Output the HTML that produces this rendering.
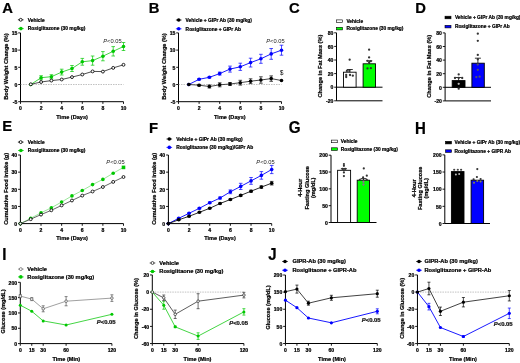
<!DOCTYPE html>
<html><head><meta charset="utf-8"><style>
html,body{margin:0;padding:0;background:#fff;}
svg{display:block;will-change:transform;}
text[font-weight="bold"]{stroke:#000;stroke-width:0.22px;}
text{font-family:"Liberation Sans",sans-serif;}
</style></head><body>
<svg width="520" height="363" viewBox="0 0 520 363">
<rect width="520" height="363" fill="#fff"/>
<text x="0" y="0" font-size="14.8" font-weight="bold" transform="translate(2.15,12.50) scale(1,1.05)">A</text>
<line x1="17.90" y1="19.80" x2="23.50" y2="19.80" stroke="#000" stroke-width="0.8" />
<circle cx="20.70" cy="19.80" r="1.45" fill="#fff" stroke="#000" stroke-width="0.85"/>
<text font-size="4.9" font-weight="bold" text-anchor="start" fill="#000"  transform="translate(27.80,21.55) scale(1,1.04)">Vehicle</text>
<line x1="18.10" y1="28.60" x2="23.70" y2="28.60" stroke="#00c800" stroke-width="0.8" />
<circle cx="20.90" cy="28.60" r="1.7999999999999998" fill="#00c800" stroke="none" stroke-width="0.8"/>
<text font-size="4.9" font-weight="bold" text-anchor="start" fill="#000"  transform="translate(27.80,30.35) scale(1,1.04)">Rosiglitazone (30 mg/kg)</text>
<line x1="20.50" y1="32.90" x2="20.50" y2="101.70" stroke="#000" stroke-width="1.0" />
<line x1="18.20" y1="32.90" x2="20.50" y2="32.90" stroke="#000" stroke-width="0.9" />
<text font-size="5.1" font-weight="bold" text-anchor="end" fill="#000"  transform="translate(17.30,35.10) scale(1,1.04)">15</text>
<line x1="18.20" y1="50.10" x2="20.50" y2="50.10" stroke="#000" stroke-width="0.9" />
<text font-size="5.1" font-weight="bold" text-anchor="end" fill="#000"  transform="translate(17.30,52.30) scale(1,1.04)">10</text>
<line x1="18.20" y1="67.30" x2="20.50" y2="67.30" stroke="#000" stroke-width="0.9" />
<text font-size="5.1" font-weight="bold" text-anchor="end" fill="#000"  transform="translate(17.30,69.50) scale(1,1.04)">5</text>
<line x1="18.20" y1="84.50" x2="20.50" y2="84.50" stroke="#000" stroke-width="0.9" />
<text font-size="5.1" font-weight="bold" text-anchor="end" fill="#000"  transform="translate(17.30,86.70) scale(1,1.04)">0</text>
<line x1="18.20" y1="101.70" x2="20.50" y2="101.70" stroke="#000" stroke-width="0.9" />
<text font-size="5.1" font-weight="bold" text-anchor="end" fill="#000"  transform="translate(17.30,103.90) scale(1,1.04)">-5</text>
<text x="0" y="0" font-size="5.6" font-weight="bold" text-anchor="middle" transform="translate(8.00,66.50) rotate(-90) scale(1,1.04)">Body Weight Change (%)</text>
<line x1="20.50" y1="101.70" x2="123.50" y2="101.70" stroke="#000" stroke-width="1.0" />
<line x1="20.50" y1="101.70" x2="20.50" y2="103.90" stroke="#000" stroke-width="0.9" />
<text font-size="5.1" font-weight="bold" text-anchor="middle" fill="#000"  transform="translate(20.50,110.30) scale(1,1.04)">0</text>
<line x1="41.10" y1="101.70" x2="41.10" y2="103.90" stroke="#000" stroke-width="0.9" />
<text font-size="5.1" font-weight="bold" text-anchor="middle" fill="#000"  transform="translate(41.10,110.30) scale(1,1.04)">2</text>
<line x1="61.70" y1="101.70" x2="61.70" y2="103.90" stroke="#000" stroke-width="0.9" />
<text font-size="5.1" font-weight="bold" text-anchor="middle" fill="#000"  transform="translate(61.70,110.30) scale(1,1.04)">4</text>
<line x1="82.30" y1="101.70" x2="82.30" y2="103.90" stroke="#000" stroke-width="0.9" />
<text font-size="5.1" font-weight="bold" text-anchor="middle" fill="#000"  transform="translate(82.30,110.30) scale(1,1.04)">6</text>
<line x1="102.90" y1="101.70" x2="102.90" y2="103.90" stroke="#000" stroke-width="0.9" />
<text font-size="5.1" font-weight="bold" text-anchor="middle" fill="#000"  transform="translate(102.90,110.30) scale(1,1.04)">8</text>
<line x1="123.50" y1="101.70" x2="123.50" y2="103.90" stroke="#000" stroke-width="0.9" />
<text font-size="5.1" font-weight="bold" text-anchor="middle" fill="#000"  transform="translate(123.50,110.30) scale(1,1.04)">10</text>
<text font-size="5.6" font-weight="bold" text-anchor="middle" fill="#000"  transform="translate(72.10,118.50) scale(1,1.04)">Time (Days)</text>
<line x1="20.50" y1="84.50" x2="123.50" y2="84.50" stroke="#999" stroke-width="0.6" stroke-dasharray="1.5,1"/>
<polyline points="30.80,84.50 41.10,77.70 51.40,76.70 61.70,72.10 72.00,68.50 82.30,61.80 92.60,60.60 102.90,56.20 113.20,51.30 123.50,46.50" fill="none" stroke="#2fd02f" stroke-width="0.9" stroke-linejoin="round"/>
<line x1="41.10" y1="75.70" x2="41.10" y2="79.70" stroke="#00c800" stroke-width="0.7" />
<line x1="39.30" y1="75.70" x2="42.90" y2="75.70" stroke="#00c800" stroke-width="0.7" />
<line x1="39.30" y1="79.70" x2="42.90" y2="79.70" stroke="#00c800" stroke-width="0.7" />
<line x1="51.40" y1="74.70" x2="51.40" y2="78.70" stroke="#00c800" stroke-width="0.7" />
<line x1="49.60" y1="74.70" x2="53.20" y2="74.70" stroke="#00c800" stroke-width="0.7" />
<line x1="49.60" y1="78.70" x2="53.20" y2="78.70" stroke="#00c800" stroke-width="0.7" />
<line x1="61.70" y1="69.20" x2="61.70" y2="75.00" stroke="#00c800" stroke-width="0.7" />
<line x1="59.90" y1="69.20" x2="63.50" y2="69.20" stroke="#00c800" stroke-width="0.7" />
<line x1="59.90" y1="75.00" x2="63.50" y2="75.00" stroke="#00c800" stroke-width="0.7" />
<line x1="72.00" y1="65.50" x2="72.00" y2="71.50" stroke="#00c800" stroke-width="0.7" />
<line x1="70.20" y1="65.50" x2="73.80" y2="65.50" stroke="#00c800" stroke-width="0.7" />
<line x1="70.20" y1="71.50" x2="73.80" y2="71.50" stroke="#00c800" stroke-width="0.7" />
<line x1="82.30" y1="58.40" x2="82.30" y2="65.20" stroke="#00c800" stroke-width="0.7" />
<line x1="80.50" y1="58.40" x2="84.10" y2="58.40" stroke="#00c800" stroke-width="0.7" />
<line x1="80.50" y1="65.20" x2="84.10" y2="65.20" stroke="#00c800" stroke-width="0.7" />
<line x1="92.60" y1="56.00" x2="92.60" y2="65.20" stroke="#00c800" stroke-width="0.7" />
<line x1="90.80" y1="56.00" x2="94.40" y2="56.00" stroke="#00c800" stroke-width="0.7" />
<line x1="90.80" y1="65.20" x2="94.40" y2="65.20" stroke="#00c800" stroke-width="0.7" />
<line x1="102.90" y1="51.60" x2="102.90" y2="60.80" stroke="#00c800" stroke-width="0.7" />
<line x1="101.10" y1="51.60" x2="104.70" y2="51.60" stroke="#00c800" stroke-width="0.7" />
<line x1="101.10" y1="60.80" x2="104.70" y2="60.80" stroke="#00c800" stroke-width="0.7" />
<line x1="113.20" y1="46.60" x2="113.20" y2="56.00" stroke="#00c800" stroke-width="0.7" />
<line x1="111.40" y1="46.60" x2="115.00" y2="46.60" stroke="#00c800" stroke-width="0.7" />
<line x1="111.40" y1="56.00" x2="115.00" y2="56.00" stroke="#00c800" stroke-width="0.7" />
<line x1="123.50" y1="42.50" x2="123.50" y2="50.50" stroke="#00c800" stroke-width="0.7" />
<line x1="121.70" y1="42.50" x2="125.30" y2="42.50" stroke="#00c800" stroke-width="0.7" />
<line x1="121.70" y1="50.50" x2="125.30" y2="50.50" stroke="#00c800" stroke-width="0.7" />
<circle cx="30.80" cy="84.50" r="1.8" fill="#00c800" stroke="none" stroke-width="0.8"/>
<circle cx="41.10" cy="77.70" r="1.8" fill="#00c800" stroke="none" stroke-width="0.8"/>
<circle cx="51.40" cy="76.70" r="1.8" fill="#00c800" stroke="none" stroke-width="0.8"/>
<circle cx="61.70" cy="72.10" r="1.8" fill="#00c800" stroke="none" stroke-width="0.8"/>
<circle cx="72.00" cy="68.50" r="1.8" fill="#00c800" stroke="none" stroke-width="0.8"/>
<circle cx="82.30" cy="61.80" r="1.8" fill="#00c800" stroke="none" stroke-width="0.8"/>
<circle cx="92.60" cy="60.60" r="1.8" fill="#00c800" stroke="none" stroke-width="0.8"/>
<circle cx="102.90" cy="56.20" r="1.8" fill="#00c800" stroke="none" stroke-width="0.8"/>
<circle cx="113.20" cy="51.30" r="1.8" fill="#00c800" stroke="none" stroke-width="0.8"/>
<circle cx="123.50" cy="46.50" r="1.8" fill="#00c800" stroke="none" stroke-width="0.8"/>
<polyline points="30.80,84.30 41.10,82.00 51.40,80.60 61.70,79.50 72.00,77.10 82.30,74.50 92.60,71.40 102.90,71.60 113.20,67.90 123.50,64.80" fill="none" stroke="#222" stroke-width="0.8" stroke-linejoin="round"/>
<circle cx="30.80" cy="84.30" r="1.45" fill="#fff" stroke="#000" stroke-width="0.85"/>
<circle cx="41.10" cy="82.00" r="1.45" fill="#fff" stroke="#000" stroke-width="0.85"/>
<circle cx="51.40" cy="80.60" r="1.45" fill="#fff" stroke="#000" stroke-width="0.85"/>
<circle cx="61.70" cy="79.50" r="1.45" fill="#fff" stroke="#000" stroke-width="0.85"/>
<circle cx="72.00" cy="77.10" r="1.45" fill="#fff" stroke="#000" stroke-width="0.85"/>
<circle cx="82.30" cy="74.50" r="1.45" fill="#fff" stroke="#000" stroke-width="0.85"/>
<circle cx="92.60" cy="71.40" r="1.45" fill="#fff" stroke="#000" stroke-width="0.85"/>
<circle cx="102.90" cy="71.60" r="1.45" fill="#fff" stroke="#000" stroke-width="0.85"/>
<circle cx="113.20" cy="67.90" r="1.45" fill="#fff" stroke="#000" stroke-width="0.85"/>
<circle cx="123.50" cy="64.80" r="1.45" fill="#fff" stroke="#000" stroke-width="0.85"/>
<text font-size="5.75" font-weight="normal" fill="#222" transform="translate(103.20,43.20) scale(1,1.04)"><tspan font-style="italic">P</tspan>&lt;0.05</text>
<text x="0" y="0" font-size="14.8" font-weight="bold" transform="translate(148.80,12.55) scale(1,1.05)">B</text>
<line x1="175.90" y1="20.00" x2="181.50" y2="20.00" stroke="#000" stroke-width="0.8" />
<circle cx="178.70" cy="20.00" r="1.7999999999999998" fill="#000" stroke="none" stroke-width="0.8"/>
<text font-size="4.9" font-weight="bold" text-anchor="start" fill="#000"  transform="translate(185.60,21.75) scale(1,1.04)">Vehicle + GIPr Ab (30 mg/kg)</text>
<line x1="175.90" y1="28.80" x2="181.50" y2="28.80" stroke="#0000ff" stroke-width="0.8" />
<circle cx="178.70" cy="28.80" r="1.7999999999999998" fill="#0000ff" stroke="none" stroke-width="0.8"/>
<text font-size="4.9" font-weight="bold" text-anchor="start" fill="#000"  transform="translate(185.60,30.55) scale(1,1.04)">Rosiglitazone + GIPr Ab</text>
<line x1="178.50" y1="32.90" x2="178.50" y2="101.70" stroke="#000" stroke-width="1.0" />
<line x1="176.20" y1="32.90" x2="178.50" y2="32.90" stroke="#000" stroke-width="0.9" />
<text font-size="5.1" font-weight="bold" text-anchor="end" fill="#000"  transform="translate(175.30,35.10) scale(1,1.04)">15</text>
<line x1="176.20" y1="50.10" x2="178.50" y2="50.10" stroke="#000" stroke-width="0.9" />
<text font-size="5.1" font-weight="bold" text-anchor="end" fill="#000"  transform="translate(175.30,52.30) scale(1,1.04)">10</text>
<line x1="176.20" y1="67.30" x2="178.50" y2="67.30" stroke="#000" stroke-width="0.9" />
<text font-size="5.1" font-weight="bold" text-anchor="end" fill="#000"  transform="translate(175.30,69.50) scale(1,1.04)">5</text>
<line x1="176.20" y1="84.50" x2="178.50" y2="84.50" stroke="#000" stroke-width="0.9" />
<text font-size="5.1" font-weight="bold" text-anchor="end" fill="#000"  transform="translate(175.30,86.70) scale(1,1.04)">0</text>
<line x1="176.20" y1="101.70" x2="178.50" y2="101.70" stroke="#000" stroke-width="0.9" />
<text font-size="5.1" font-weight="bold" text-anchor="end" fill="#000"  transform="translate(175.30,103.90) scale(1,1.04)">-5</text>
<text x="0" y="0" font-size="5.6" font-weight="bold" text-anchor="middle" transform="translate(165.90,66.50) rotate(-90) scale(1,1.04)">Body Weight Change (%)</text>
<line x1="178.50" y1="101.70" x2="281.50" y2="101.70" stroke="#000" stroke-width="1.0" />
<line x1="178.50" y1="101.70" x2="178.50" y2="103.90" stroke="#000" stroke-width="0.9" />
<text font-size="5.1" font-weight="bold" text-anchor="middle" fill="#000"  transform="translate(178.50,110.30) scale(1,1.04)">0</text>
<line x1="199.10" y1="101.70" x2="199.10" y2="103.90" stroke="#000" stroke-width="0.9" />
<text font-size="5.1" font-weight="bold" text-anchor="middle" fill="#000"  transform="translate(199.10,110.30) scale(1,1.04)">2</text>
<line x1="219.70" y1="101.70" x2="219.70" y2="103.90" stroke="#000" stroke-width="0.9" />
<text font-size="5.1" font-weight="bold" text-anchor="middle" fill="#000"  transform="translate(219.70,110.30) scale(1,1.04)">4</text>
<line x1="240.30" y1="101.70" x2="240.30" y2="103.90" stroke="#000" stroke-width="0.9" />
<text font-size="5.1" font-weight="bold" text-anchor="middle" fill="#000"  transform="translate(240.30,110.30) scale(1,1.04)">6</text>
<line x1="260.90" y1="101.70" x2="260.90" y2="103.90" stroke="#000" stroke-width="0.9" />
<text font-size="5.1" font-weight="bold" text-anchor="middle" fill="#000"  transform="translate(260.90,110.30) scale(1,1.04)">8</text>
<line x1="281.50" y1="101.70" x2="281.50" y2="103.90" stroke="#000" stroke-width="0.9" />
<text font-size="5.1" font-weight="bold" text-anchor="middle" fill="#000"  transform="translate(281.50,110.30) scale(1,1.04)">10</text>
<text font-size="5.6" font-weight="bold" text-anchor="middle" fill="#000"  transform="translate(229.80,118.50) scale(1,1.04)">Time (Days)</text>
<line x1="178.50" y1="84.50" x2="281.50" y2="84.50" stroke="#999" stroke-width="0.6" stroke-dasharray="1.5,1"/>
<polyline points="188.80,84.50 199.10,79.30 209.40,77.30 219.70,73.60 230.00,69.10 240.30,66.80 250.60,62.60 260.90,58.80 271.20,53.90 281.50,50.20" fill="none" stroke="#0000ff" stroke-width="0.9" stroke-linejoin="round"/>
<line x1="199.10" y1="78.50" x2="199.10" y2="80.10" stroke="#0000ff" stroke-width="0.7" />
<line x1="197.30" y1="78.50" x2="200.90" y2="78.50" stroke="#0000ff" stroke-width="0.7" />
<line x1="197.30" y1="80.10" x2="200.90" y2="80.10" stroke="#0000ff" stroke-width="0.7" />
<line x1="209.40" y1="76.50" x2="209.40" y2="78.10" stroke="#0000ff" stroke-width="0.7" />
<line x1="207.60" y1="76.50" x2="211.20" y2="76.50" stroke="#0000ff" stroke-width="0.7" />
<line x1="207.60" y1="78.10" x2="211.20" y2="78.10" stroke="#0000ff" stroke-width="0.7" />
<line x1="219.70" y1="72.10" x2="219.70" y2="75.10" stroke="#0000ff" stroke-width="0.7" />
<line x1="217.90" y1="72.10" x2="221.50" y2="72.10" stroke="#0000ff" stroke-width="0.7" />
<line x1="217.90" y1="75.10" x2="221.50" y2="75.10" stroke="#0000ff" stroke-width="0.7" />
<line x1="230.00" y1="66.10" x2="230.00" y2="72.10" stroke="#0000ff" stroke-width="0.7" />
<line x1="228.20" y1="66.10" x2="231.80" y2="66.10" stroke="#0000ff" stroke-width="0.7" />
<line x1="228.20" y1="72.10" x2="231.80" y2="72.10" stroke="#0000ff" stroke-width="0.7" />
<line x1="240.30" y1="63.20" x2="240.30" y2="70.40" stroke="#0000ff" stroke-width="0.7" />
<line x1="238.50" y1="63.20" x2="242.10" y2="63.20" stroke="#0000ff" stroke-width="0.7" />
<line x1="238.50" y1="70.40" x2="242.10" y2="70.40" stroke="#0000ff" stroke-width="0.7" />
<line x1="250.60" y1="58.20" x2="250.60" y2="67.00" stroke="#0000ff" stroke-width="0.7" />
<line x1="248.80" y1="58.20" x2="252.40" y2="58.20" stroke="#0000ff" stroke-width="0.7" />
<line x1="248.80" y1="67.00" x2="252.40" y2="67.00" stroke="#0000ff" stroke-width="0.7" />
<line x1="260.90" y1="54.30" x2="260.90" y2="63.30" stroke="#0000ff" stroke-width="0.7" />
<line x1="259.10" y1="54.30" x2="262.70" y2="54.30" stroke="#0000ff" stroke-width="0.7" />
<line x1="259.10" y1="63.30" x2="262.70" y2="63.30" stroke="#0000ff" stroke-width="0.7" />
<line x1="271.20" y1="48.50" x2="271.20" y2="59.30" stroke="#0000ff" stroke-width="0.7" />
<line x1="269.40" y1="48.50" x2="273.00" y2="48.50" stroke="#0000ff" stroke-width="0.7" />
<line x1="269.40" y1="59.30" x2="273.00" y2="59.30" stroke="#0000ff" stroke-width="0.7" />
<line x1="281.50" y1="45.20" x2="281.50" y2="55.20" stroke="#0000ff" stroke-width="0.7" />
<line x1="279.70" y1="45.20" x2="283.30" y2="45.20" stroke="#0000ff" stroke-width="0.7" />
<line x1="279.70" y1="55.20" x2="283.30" y2="55.20" stroke="#0000ff" stroke-width="0.7" />
<circle cx="188.80" cy="84.50" r="1.8" fill="#0000ff" stroke="none" stroke-width="0.8"/>
<circle cx="199.10" cy="79.30" r="1.8" fill="#0000ff" stroke="none" stroke-width="0.8"/>
<circle cx="209.40" cy="77.30" r="1.8" fill="#0000ff" stroke="none" stroke-width="0.8"/>
<circle cx="219.70" cy="73.60" r="1.8" fill="#0000ff" stroke="none" stroke-width="0.8"/>
<circle cx="230.00" cy="69.10" r="1.8" fill="#0000ff" stroke="none" stroke-width="0.8"/>
<circle cx="240.30" cy="66.80" r="1.8" fill="#0000ff" stroke="none" stroke-width="0.8"/>
<circle cx="250.60" cy="62.60" r="1.8" fill="#0000ff" stroke="none" stroke-width="0.8"/>
<circle cx="260.90" cy="58.80" r="1.8" fill="#0000ff" stroke="none" stroke-width="0.8"/>
<circle cx="271.20" cy="53.90" r="1.8" fill="#0000ff" stroke="none" stroke-width="0.8"/>
<circle cx="281.50" cy="50.20" r="1.8" fill="#0000ff" stroke="none" stroke-width="0.8"/>
<polyline points="188.80,84.50 199.10,85.20 209.40,86.50 219.70,84.80 230.00,84.00 240.30,82.70 250.60,81.20 260.90,80.00 271.20,78.60 281.50,80.50" fill="none" stroke="#333" stroke-width="0.9" stroke-linejoin="round"/>
<line x1="199.10" y1="84.40" x2="199.10" y2="86.00" stroke="#000" stroke-width="0.7" />
<line x1="197.30" y1="84.40" x2="200.90" y2="84.40" stroke="#000" stroke-width="0.7" />
<line x1="197.30" y1="86.00" x2="200.90" y2="86.00" stroke="#000" stroke-width="0.7" />
<line x1="209.40" y1="85.00" x2="209.40" y2="88.00" stroke="#000" stroke-width="0.7" />
<line x1="207.60" y1="85.00" x2="211.20" y2="85.00" stroke="#000" stroke-width="0.7" />
<line x1="207.60" y1="88.00" x2="211.20" y2="88.00" stroke="#000" stroke-width="0.7" />
<line x1="219.70" y1="82.80" x2="219.70" y2="86.80" stroke="#000" stroke-width="0.7" />
<line x1="217.90" y1="82.80" x2="221.50" y2="82.80" stroke="#000" stroke-width="0.7" />
<line x1="217.90" y1="86.80" x2="221.50" y2="86.80" stroke="#000" stroke-width="0.7" />
<line x1="230.00" y1="82.50" x2="230.00" y2="85.50" stroke="#000" stroke-width="0.7" />
<line x1="228.20" y1="82.50" x2="231.80" y2="82.50" stroke="#000" stroke-width="0.7" />
<line x1="228.20" y1="85.50" x2="231.80" y2="85.50" stroke="#000" stroke-width="0.7" />
<line x1="240.30" y1="80.30" x2="240.30" y2="85.10" stroke="#000" stroke-width="0.7" />
<line x1="238.50" y1="80.30" x2="242.10" y2="80.30" stroke="#000" stroke-width="0.7" />
<line x1="238.50" y1="85.10" x2="242.10" y2="85.10" stroke="#000" stroke-width="0.7" />
<line x1="250.60" y1="78.80" x2="250.60" y2="83.60" stroke="#000" stroke-width="0.7" />
<line x1="248.80" y1="78.80" x2="252.40" y2="78.80" stroke="#000" stroke-width="0.7" />
<line x1="248.80" y1="83.60" x2="252.40" y2="83.60" stroke="#000" stroke-width="0.7" />
<line x1="260.90" y1="76.80" x2="260.90" y2="83.20" stroke="#000" stroke-width="0.7" />
<line x1="259.10" y1="76.80" x2="262.70" y2="76.80" stroke="#000" stroke-width="0.7" />
<line x1="259.10" y1="83.20" x2="262.70" y2="83.20" stroke="#000" stroke-width="0.7" />
<line x1="271.20" y1="75.90" x2="271.20" y2="81.30" stroke="#000" stroke-width="0.7" />
<line x1="269.40" y1="75.90" x2="273.00" y2="75.90" stroke="#000" stroke-width="0.7" />
<line x1="269.40" y1="81.30" x2="273.00" y2="81.30" stroke="#000" stroke-width="0.7" />
<circle cx="188.80" cy="84.50" r="1.8" fill="#000" stroke="none" stroke-width="0.8"/>
<circle cx="199.10" cy="85.20" r="1.8" fill="#000" stroke="none" stroke-width="0.8"/>
<circle cx="209.40" cy="86.50" r="1.8" fill="#000" stroke="none" stroke-width="0.8"/>
<circle cx="219.70" cy="84.80" r="1.8" fill="#000" stroke="none" stroke-width="0.8"/>
<circle cx="230.00" cy="84.00" r="1.8" fill="#000" stroke="none" stroke-width="0.8"/>
<circle cx="240.30" cy="82.70" r="1.8" fill="#000" stroke="none" stroke-width="0.8"/>
<circle cx="250.60" cy="81.20" r="1.8" fill="#000" stroke="none" stroke-width="0.8"/>
<circle cx="260.90" cy="80.00" r="1.8" fill="#000" stroke="none" stroke-width="0.8"/>
<circle cx="271.20" cy="78.60" r="1.8" fill="#000" stroke="none" stroke-width="0.8"/>
<circle cx="281.50" cy="80.50" r="1.8" fill="#000" stroke="none" stroke-width="0.8"/>
<text font-size="5.75" font-weight="normal" fill="#222" transform="translate(266.20,43.20) scale(1,1.04)"><tspan font-style="italic">P</tspan>&lt;0.05</text>
<text font-size="6.2" font-weight="normal" text-anchor="middle" fill="#000"  transform="translate(281.80,75.00) scale(1,1.04)">$</text>
<text x="0" y="0" font-size="14.8" font-weight="bold" transform="translate(288.90,12.70) scale(1,1.05)">C</text>
<rect x="336.50" y="19.90" width="6.00" height="2.60" fill="#fff" stroke="#000" stroke-width="0.6"/>
<text font-size="4.85" font-weight="bold" text-anchor="start" fill="#000"  transform="translate(346.40,22.85) scale(1,1.04)">Vehicle</text>
<rect x="336.50" y="27.30" width="6.00" height="2.60" fill="#00ff00" stroke="#000" stroke-width="0.6"/>
<text font-size="4.85" font-weight="bold" text-anchor="start" fill="#000"  transform="translate(346.40,30.25) scale(1,1.04)">Rosiglitazone (30 mg/kg)</text>
<line x1="336.50" y1="32.80" x2="336.50" y2="100.80" stroke="#000" stroke-width="1.0" />
<line x1="334.20" y1="32.80" x2="336.50" y2="32.80" stroke="#000" stroke-width="0.9" />
<text font-size="5.1" font-weight="bold" text-anchor="end" fill="#000"  transform="translate(333.30,35.00) scale(1,1.04)">80</text>
<line x1="334.20" y1="46.40" x2="336.50" y2="46.40" stroke="#000" stroke-width="0.9" />
<text font-size="5.1" font-weight="bold" text-anchor="end" fill="#000"  transform="translate(333.30,48.60) scale(1,1.04)">60</text>
<line x1="334.20" y1="60.00" x2="336.50" y2="60.00" stroke="#000" stroke-width="0.9" />
<text font-size="5.1" font-weight="bold" text-anchor="end" fill="#000"  transform="translate(333.30,62.20) scale(1,1.04)">40</text>
<line x1="334.20" y1="73.60" x2="336.50" y2="73.60" stroke="#000" stroke-width="0.9" />
<text font-size="5.1" font-weight="bold" text-anchor="end" fill="#000"  transform="translate(333.30,75.80) scale(1,1.04)">20</text>
<line x1="334.20" y1="87.20" x2="336.50" y2="87.20" stroke="#000" stroke-width="0.9" />
<text font-size="5.1" font-weight="bold" text-anchor="end" fill="#000"  transform="translate(333.30,89.40) scale(1,1.04)">0</text>
<line x1="334.20" y1="100.80" x2="336.50" y2="100.80" stroke="#000" stroke-width="0.9" />
<text font-size="5.1" font-weight="bold" text-anchor="end" fill="#000"  transform="translate(333.30,103.00) scale(1,1.04)">-20</text>
<text x="0" y="0" font-size="5.6" font-weight="bold" text-anchor="middle" transform="translate(322.30,66.10) rotate(-90) scale(1,1.04)">Change in Fat Mass (%)</text>
<line x1="336.50" y1="87.20" x2="382.50" y2="87.20" stroke="#000" stroke-width="1.0" />
<line x1="336.50" y1="100.80" x2="382.50" y2="100.80" stroke="#000" stroke-width="1.0" />
<rect x="343.50" y="72.20" width="12.60" height="15.00" fill="#fff" stroke="#000" stroke-width="0.9"/>
<rect x="363.10" y="63.80" width="12.40" height="23.40" fill="#00ff00" stroke="#000" stroke-width="0.9"/>
<line x1="349.80" y1="69.50" x2="349.80" y2="72.20" stroke="#000" stroke-width="0.8" />
<line x1="346.80" y1="69.50" x2="352.80" y2="69.50" stroke="#000" stroke-width="0.8" />
<line x1="369.30" y1="60.80" x2="369.30" y2="63.80" stroke="#000" stroke-width="0.8" />
<line x1="366.30" y1="60.80" x2="372.30" y2="60.80" stroke="#000" stroke-width="0.8" />
<circle cx="349.66" cy="59.70" r="1.15" fill="#333" stroke="none" stroke-width="0.8"/>
<circle cx="346.90" cy="70.90" r="1.15" fill="#333" stroke="none" stroke-width="0.8"/>
<circle cx="349.30" cy="70.90" r="1.15" fill="#333" stroke="none" stroke-width="0.8"/>
<circle cx="346.20" cy="75.00" r="1.15" fill="#333" stroke="none" stroke-width="0.8"/>
<circle cx="350.00" cy="75.00" r="1.15" fill="#333" stroke="none" stroke-width="0.8"/>
<circle cx="352.80" cy="75.70" r="1.15" fill="#333" stroke="none" stroke-width="0.8"/>
<circle cx="346.20" cy="77.00" r="1.15" fill="#333" stroke="none" stroke-width="0.8"/>
<circle cx="369.10" cy="49.70" r="1.15" fill="#333" stroke="none" stroke-width="0.8"/>
<circle cx="369.10" cy="57.40" r="1.15" fill="#333" stroke="none" stroke-width="0.8"/>
<circle cx="367.50" cy="60.80" r="1.15" fill="#333" stroke="none" stroke-width="0.8"/>
<circle cx="370.80" cy="61.20" r="1.15" fill="#333" stroke="none" stroke-width="0.8"/>
<circle cx="369.10" cy="62.30" r="1.15" fill="#333" stroke="none" stroke-width="0.8"/>
<circle cx="367.50" cy="68.40" r="1.15" fill="#333" stroke="none" stroke-width="0.8"/>
<circle cx="370.90" cy="68.20" r="1.15" fill="#333" stroke="none" stroke-width="0.8"/>
<text x="0" y="0" font-size="14.8" font-weight="bold" transform="translate(415.25,12.70) scale(1,1.05)">D</text>
<rect x="445.00" y="16.20" width="6.00" height="2.60" fill="#000" stroke="#000" stroke-width="0.6"/>
<text font-size="4.85" font-weight="bold" text-anchor="start" fill="#000"  transform="translate(454.90,19.15) scale(1,1.04)">Vehicle + GIPr Ab (30 mg/kg)</text>
<rect x="445.00" y="25.30" width="6.00" height="2.60" fill="#0000ff" stroke="#000" stroke-width="0.6"/>
<text font-size="4.85" font-weight="bold" text-anchor="start" fill="#000"  transform="translate(454.90,28.25) scale(1,1.04)">Rosiglitazone + GIPr Ab</text>
<line x1="445.10" y1="32.90" x2="445.10" y2="100.90" stroke="#000" stroke-width="1.0" />
<line x1="442.80" y1="32.90" x2="445.10" y2="32.90" stroke="#000" stroke-width="0.9" />
<text font-size="5.1" font-weight="bold" text-anchor="end" fill="#000"  transform="translate(441.90,35.10) scale(1,1.04)">80</text>
<line x1="442.80" y1="46.50" x2="445.10" y2="46.50" stroke="#000" stroke-width="0.9" />
<text font-size="5.1" font-weight="bold" text-anchor="end" fill="#000"  transform="translate(441.90,48.70) scale(1,1.04)">60</text>
<line x1="442.80" y1="60.10" x2="445.10" y2="60.10" stroke="#000" stroke-width="0.9" />
<text font-size="5.1" font-weight="bold" text-anchor="end" fill="#000"  transform="translate(441.90,62.30) scale(1,1.04)">40</text>
<line x1="442.80" y1="73.70" x2="445.10" y2="73.70" stroke="#000" stroke-width="0.9" />
<text font-size="5.1" font-weight="bold" text-anchor="end" fill="#000"  transform="translate(441.90,75.90) scale(1,1.04)">20</text>
<line x1="442.80" y1="87.30" x2="445.10" y2="87.30" stroke="#000" stroke-width="0.9" />
<text font-size="5.1" font-weight="bold" text-anchor="end" fill="#000"  transform="translate(441.90,89.50) scale(1,1.04)">0</text>
<line x1="442.80" y1="100.90" x2="445.10" y2="100.90" stroke="#000" stroke-width="0.9" />
<text font-size="5.1" font-weight="bold" text-anchor="end" fill="#000"  transform="translate(441.90,103.10) scale(1,1.04)">-20</text>
<text x="0" y="0" font-size="5.6" font-weight="bold" text-anchor="middle" transform="translate(430.80,66.30) rotate(-90) scale(1,1.04)">Change in Fat Mass (%)</text>
<line x1="445.10" y1="87.30" x2="491.00" y2="87.30" stroke="#000" stroke-width="1.0" />
<line x1="445.10" y1="100.90" x2="491.00" y2="100.90" stroke="#000" stroke-width="1.0" />
<rect x="452.20" y="80.60" width="12.80" height="6.70" fill="#000" stroke="#000" stroke-width="0.9"/>
<rect x="471.90" y="63.20" width="12.40" height="24.10" fill="#0000ff" stroke="#000" stroke-width="0.9"/>
<line x1="458.60" y1="77.50" x2="458.60" y2="80.60" stroke="#000" stroke-width="0.8" />
<line x1="455.60" y1="77.50" x2="461.60" y2="77.50" stroke="#000" stroke-width="0.8" />
<line x1="477.90" y1="58.20" x2="477.90" y2="63.20" stroke="#000" stroke-width="0.8" />
<line x1="474.90" y1="58.20" x2="480.90" y2="58.20" stroke="#000" stroke-width="0.8" />
<circle cx="458.70" cy="74.40" r="1.15" fill="#333" stroke="none" stroke-width="0.8"/>
<circle cx="455.00" cy="78.00" r="1.15" fill="#333" stroke="none" stroke-width="0.8"/>
<circle cx="458.70" cy="78.00" r="1.15" fill="#333" stroke="none" stroke-width="0.8"/>
<circle cx="462.20" cy="78.00" r="1.15" fill="#333" stroke="none" stroke-width="0.8"/>
<circle cx="458.70" cy="88.70" r="1.15" fill="#333" stroke="none" stroke-width="0.8"/>
<circle cx="458.70" cy="83.80" r="1.15" fill="#bbb" stroke="none" stroke-width="0.8"/>
<circle cx="477.80" cy="33.70" r="1.15" fill="#333" stroke="none" stroke-width="0.8"/>
<circle cx="477.80" cy="40.80" r="1.15" fill="#333" stroke="none" stroke-width="0.8"/>
<circle cx="477.80" cy="54.90" r="1.15" fill="#333" stroke="none" stroke-width="0.8"/>
<circle cx="477.80" cy="59.30" r="1.15" fill="#333" stroke="none" stroke-width="0.8"/>
<circle cx="477.80" cy="64.60" r="1.15" fill="#556" stroke="none" stroke-width="0.8"/>
<circle cx="477.80" cy="69.80" r="1.15" fill="#556" stroke="none" stroke-width="0.8"/>
<circle cx="476.30" cy="77.10" r="1.15" fill="#556" stroke="none" stroke-width="0.8"/>
<circle cx="479.60" cy="76.70" r="1.15" fill="#556" stroke="none" stroke-width="0.8"/>
<text x="0" y="0" font-size="14.8" font-weight="bold" transform="translate(2.20,131.40) scale(1,1.05)">E</text>
<line x1="17.90" y1="142.10" x2="23.50" y2="142.10" stroke="#000" stroke-width="0.8" />
<circle cx="20.70" cy="142.10" r="1.45" fill="#fff" stroke="#000" stroke-width="0.85"/>
<text font-size="4.9" font-weight="bold" text-anchor="start" fill="#000"  transform="translate(27.80,143.85) scale(1,1.04)">Vehicle</text>
<line x1="18.10" y1="150.50" x2="23.70" y2="150.50" stroke="#00c800" stroke-width="0.8" />
<circle cx="20.90" cy="150.50" r="1.7999999999999998" fill="#00c800" stroke="none" stroke-width="0.8"/>
<text font-size="4.9" font-weight="bold" text-anchor="start" fill="#000"  transform="translate(27.80,152.25) scale(1,1.04)">Rosiglitazone (30 mg/kg)</text>
<line x1="20.40" y1="155.00" x2="20.40" y2="223.60" stroke="#000" stroke-width="1.0" />
<line x1="18.10" y1="155.00" x2="20.40" y2="155.00" stroke="#000" stroke-width="0.9" />
<text font-size="5.1" font-weight="bold" text-anchor="end" fill="#000"  transform="translate(17.20,157.20) scale(1,1.04)">40</text>
<line x1="18.10" y1="172.15" x2="20.40" y2="172.15" stroke="#000" stroke-width="0.9" />
<text font-size="5.1" font-weight="bold" text-anchor="end" fill="#000"  transform="translate(17.20,174.35) scale(1,1.04)">30</text>
<line x1="18.10" y1="189.30" x2="20.40" y2="189.30" stroke="#000" stroke-width="0.9" />
<text font-size="5.1" font-weight="bold" text-anchor="end" fill="#000"  transform="translate(17.20,191.50) scale(1,1.04)">20</text>
<line x1="18.10" y1="206.45" x2="20.40" y2="206.45" stroke="#000" stroke-width="0.9" />
<text font-size="5.1" font-weight="bold" text-anchor="end" fill="#000"  transform="translate(17.20,208.65) scale(1,1.04)">10</text>
<line x1="18.10" y1="223.60" x2="20.40" y2="223.60" stroke="#000" stroke-width="0.9" />
<text font-size="5.1" font-weight="bold" text-anchor="end" fill="#000"  transform="translate(17.20,225.80) scale(1,1.04)">0</text>
<text x="0" y="0" font-size="5.6" font-weight="bold" text-anchor="middle" transform="translate(7.60,188.85) rotate(-90) scale(1,1.04)">Cumulative Food intake (g)</text>
<line x1="20.40" y1="223.60" x2="123.50" y2="223.60" stroke="#000" stroke-width="1.0" />
<line x1="20.40" y1="223.60" x2="20.40" y2="225.80" stroke="#000" stroke-width="0.9" />
<text font-size="5.1" font-weight="bold" text-anchor="middle" fill="#000"  transform="translate(20.40,232.20) scale(1,1.04)">0</text>
<line x1="41.02" y1="223.60" x2="41.02" y2="225.80" stroke="#000" stroke-width="0.9" />
<text font-size="5.1" font-weight="bold" text-anchor="middle" fill="#000"  transform="translate(41.02,232.20) scale(1,1.04)">2</text>
<line x1="61.64" y1="223.60" x2="61.64" y2="225.80" stroke="#000" stroke-width="0.9" />
<text font-size="5.1" font-weight="bold" text-anchor="middle" fill="#000"  transform="translate(61.64,232.20) scale(1,1.04)">4</text>
<line x1="82.26" y1="223.60" x2="82.26" y2="225.80" stroke="#000" stroke-width="0.9" />
<text font-size="5.1" font-weight="bold" text-anchor="middle" fill="#000"  transform="translate(82.26,232.20) scale(1,1.04)">6</text>
<line x1="102.88" y1="223.60" x2="102.88" y2="225.80" stroke="#000" stroke-width="0.9" />
<text font-size="5.1" font-weight="bold" text-anchor="middle" fill="#000"  transform="translate(102.88,232.20) scale(1,1.04)">8</text>
<line x1="123.50" y1="223.60" x2="123.50" y2="225.80" stroke="#000" stroke-width="0.9" />
<text font-size="5.1" font-weight="bold" text-anchor="middle" fill="#000"  transform="translate(123.50,232.20) scale(1,1.04)">10</text>
<text font-size="5.6" font-weight="bold" text-anchor="middle" fill="#000"  transform="translate(72.10,239.80) scale(1,1.04)">Time (Days)</text>
<polyline points="20.40,223.60 30.71,218.30 41.02,212.80 51.33,207.80 61.64,202.00 71.95,195.90 82.26,190.50 92.57,184.60 102.88,179.40 113.19,173.20 123.50,167.40" fill="none" stroke="#7fe07f" stroke-width="0.8" stroke-linejoin="round"/>
<circle cx="20.40" cy="223.60" r="1.8" fill="#00c800" stroke="none" stroke-width="0.8"/>
<circle cx="30.71" cy="218.30" r="1.8" fill="#00c800" stroke="none" stroke-width="0.8"/>
<circle cx="41.02" cy="212.80" r="1.8" fill="#00c800" stroke="none" stroke-width="0.8"/>
<circle cx="51.33" cy="207.80" r="1.8" fill="#00c800" stroke="none" stroke-width="0.8"/>
<circle cx="61.64" cy="202.00" r="1.8" fill="#00c800" stroke="none" stroke-width="0.8"/>
<circle cx="71.95" cy="195.90" r="1.8" fill="#00c800" stroke="none" stroke-width="0.8"/>
<circle cx="82.26" cy="190.50" r="1.8" fill="#00c800" stroke="none" stroke-width="0.8"/>
<circle cx="92.57" cy="184.60" r="1.8" fill="#00c800" stroke="none" stroke-width="0.8"/>
<circle cx="102.88" cy="179.40" r="1.8" fill="#00c800" stroke="none" stroke-width="0.8"/>
<circle cx="113.19" cy="173.20" r="1.8" fill="#00c800" stroke="none" stroke-width="0.8"/>
<rect x="121.70" y="165.60" width="3.60" height="3.60" fill="#00c800" stroke="none" stroke-width="0"/>
<polyline points="20.40,223.60 30.71,219.20 41.02,214.60 51.33,210.30 61.64,205.40 71.95,200.50 82.26,195.60 92.57,191.50 102.88,187.00 113.19,181.90 123.50,177.00" fill="none" stroke="#333" stroke-width="0.75" stroke-linejoin="round"/>
<circle cx="20.40" cy="223.60" r="1.45" fill="#fff" stroke="#000" stroke-width="0.85"/>
<circle cx="30.71" cy="219.20" r="1.45" fill="#fff" stroke="#000" stroke-width="0.85"/>
<circle cx="41.02" cy="214.60" r="1.45" fill="#fff" stroke="#000" stroke-width="0.85"/>
<circle cx="51.33" cy="210.30" r="1.45" fill="#fff" stroke="#000" stroke-width="0.85"/>
<circle cx="61.64" cy="205.40" r="1.45" fill="#fff" stroke="#000" stroke-width="0.85"/>
<circle cx="71.95" cy="200.50" r="1.45" fill="#fff" stroke="#000" stroke-width="0.85"/>
<circle cx="82.26" cy="195.60" r="1.45" fill="#fff" stroke="#000" stroke-width="0.85"/>
<circle cx="92.57" cy="191.50" r="1.45" fill="#fff" stroke="#000" stroke-width="0.85"/>
<circle cx="102.88" cy="187.00" r="1.45" fill="#fff" stroke="#000" stroke-width="0.85"/>
<circle cx="113.19" cy="181.90" r="1.45" fill="#fff" stroke="#000" stroke-width="0.85"/>
<circle cx="123.50" cy="177.00" r="1.45" fill="#fff" stroke="#000" stroke-width="0.85"/>
<text font-size="5.75" font-weight="normal" fill="#222" transform="translate(106.30,163.60) scale(1,1.04)"><tspan font-style="italic">P</tspan>&lt;0.05</text>
<text x="0" y="0" font-size="14.8" font-weight="bold" transform="translate(149.00,133.20) scale(1,1.05)">F</text>
<line x1="166.50" y1="139.00" x2="172.10" y2="139.00" stroke="#000" stroke-width="0.8" />
<circle cx="169.30" cy="139.00" r="1.7999999999999998" fill="#000" stroke="none" stroke-width="0.8"/>
<text font-size="4.9" font-weight="bold" text-anchor="start" fill="#000"  transform="translate(176.30,140.75) scale(1,1.04)">Vehicle + GIPr Ab (30 mg/kg)</text>
<line x1="166.50" y1="147.40" x2="172.10" y2="147.40" stroke="#0000ff" stroke-width="0.8" />
<circle cx="169.30" cy="147.40" r="1.7999999999999998" fill="#0000ff" stroke="none" stroke-width="0.8"/>
<text font-size="4.9" font-weight="bold" text-anchor="start" fill="#000"  transform="translate(176.30,149.15) scale(1,1.04)">Rosiglitazone (30 mg/kg)/GIPr Ab</text>
<line x1="168.40" y1="155.00" x2="168.40" y2="223.60" stroke="#000" stroke-width="1.0" />
<line x1="166.10" y1="155.00" x2="168.40" y2="155.00" stroke="#000" stroke-width="0.9" />
<text font-size="5.1" font-weight="bold" text-anchor="end" fill="#000"  transform="translate(165.20,157.20) scale(1,1.04)">40</text>
<line x1="166.10" y1="172.15" x2="168.40" y2="172.15" stroke="#000" stroke-width="0.9" />
<text font-size="5.1" font-weight="bold" text-anchor="end" fill="#000"  transform="translate(165.20,174.35) scale(1,1.04)">30</text>
<line x1="166.10" y1="189.30" x2="168.40" y2="189.30" stroke="#000" stroke-width="0.9" />
<text font-size="5.1" font-weight="bold" text-anchor="end" fill="#000"  transform="translate(165.20,191.50) scale(1,1.04)">20</text>
<line x1="166.10" y1="206.45" x2="168.40" y2="206.45" stroke="#000" stroke-width="0.9" />
<text font-size="5.1" font-weight="bold" text-anchor="end" fill="#000"  transform="translate(165.20,208.65) scale(1,1.04)">10</text>
<line x1="166.10" y1="223.60" x2="168.40" y2="223.60" stroke="#000" stroke-width="0.9" />
<text font-size="5.1" font-weight="bold" text-anchor="end" fill="#000"  transform="translate(165.20,225.80) scale(1,1.04)">0</text>
<text x="0" y="0" font-size="5.6" font-weight="bold" text-anchor="middle" transform="translate(155.60,188.85) rotate(-90) scale(1,1.04)">Cumulative Food intake (g)</text>
<line x1="168.40" y1="223.60" x2="271.70" y2="223.60" stroke="#000" stroke-width="1.0" />
<line x1="168.40" y1="223.60" x2="168.40" y2="225.80" stroke="#000" stroke-width="0.9" />
<text font-size="5.1" font-weight="bold" text-anchor="middle" fill="#000"  transform="translate(168.40,232.20) scale(1,1.04)">0</text>
<line x1="189.06" y1="223.60" x2="189.06" y2="225.80" stroke="#000" stroke-width="0.9" />
<text font-size="5.1" font-weight="bold" text-anchor="middle" fill="#000"  transform="translate(189.06,232.20) scale(1,1.04)">2</text>
<line x1="209.72" y1="223.60" x2="209.72" y2="225.80" stroke="#000" stroke-width="0.9" />
<text font-size="5.1" font-weight="bold" text-anchor="middle" fill="#000"  transform="translate(209.72,232.20) scale(1,1.04)">4</text>
<line x1="230.38" y1="223.60" x2="230.38" y2="225.80" stroke="#000" stroke-width="0.9" />
<text font-size="5.1" font-weight="bold" text-anchor="middle" fill="#000"  transform="translate(230.38,232.20) scale(1,1.04)">6</text>
<line x1="251.04" y1="223.60" x2="251.04" y2="225.80" stroke="#000" stroke-width="0.9" />
<text font-size="5.1" font-weight="bold" text-anchor="middle" fill="#000"  transform="translate(251.04,232.20) scale(1,1.04)">8</text>
<line x1="271.70" y1="223.60" x2="271.70" y2="225.80" stroke="#000" stroke-width="0.9" />
<text font-size="5.1" font-weight="bold" text-anchor="middle" fill="#000"  transform="translate(271.70,232.20) scale(1,1.04)">10</text>
<text font-size="5.6" font-weight="bold" text-anchor="middle" fill="#000"  transform="translate(220.00,239.80) scale(1,1.04)">Time (Days)</text>
<polyline points="168.40,223.60 178.73,218.30 189.06,213.30 199.39,208.30 209.72,202.80 220.05,198.00 230.38,191.80 240.71,186.40 251.04,180.90 261.37,175.40 271.70,169.50" fill="none" stroke="#0000ff" stroke-width="0.9" stroke-linejoin="round"/>
<line x1="178.73" y1="217.70" x2="178.73" y2="218.90" stroke="#0000ff" stroke-width="0.7" />
<line x1="176.93" y1="217.70" x2="180.53" y2="217.70" stroke="#0000ff" stroke-width="0.7" />
<line x1="176.93" y1="218.90" x2="180.53" y2="218.90" stroke="#0000ff" stroke-width="0.7" />
<line x1="189.06" y1="212.70" x2="189.06" y2="213.90" stroke="#0000ff" stroke-width="0.7" />
<line x1="187.26" y1="212.70" x2="190.86" y2="212.70" stroke="#0000ff" stroke-width="0.7" />
<line x1="187.26" y1="213.90" x2="190.86" y2="213.90" stroke="#0000ff" stroke-width="0.7" />
<line x1="199.39" y1="207.50" x2="199.39" y2="209.10" stroke="#0000ff" stroke-width="0.7" />
<line x1="197.59" y1="207.50" x2="201.19" y2="207.50" stroke="#0000ff" stroke-width="0.7" />
<line x1="197.59" y1="209.10" x2="201.19" y2="209.10" stroke="#0000ff" stroke-width="0.7" />
<line x1="209.72" y1="202.00" x2="209.72" y2="203.60" stroke="#0000ff" stroke-width="0.7" />
<line x1="207.92" y1="202.00" x2="211.52" y2="202.00" stroke="#0000ff" stroke-width="0.7" />
<line x1="207.92" y1="203.60" x2="211.52" y2="203.60" stroke="#0000ff" stroke-width="0.7" />
<line x1="220.05" y1="197.00" x2="220.05" y2="199.00" stroke="#0000ff" stroke-width="0.7" />
<line x1="218.25" y1="197.00" x2="221.85" y2="197.00" stroke="#0000ff" stroke-width="0.7" />
<line x1="218.25" y1="199.00" x2="221.85" y2="199.00" stroke="#0000ff" stroke-width="0.7" />
<line x1="230.38" y1="189.90" x2="230.38" y2="193.70" stroke="#0000ff" stroke-width="0.7" />
<line x1="228.58" y1="189.90" x2="232.18" y2="189.90" stroke="#0000ff" stroke-width="0.7" />
<line x1="228.58" y1="193.70" x2="232.18" y2="193.70" stroke="#0000ff" stroke-width="0.7" />
<line x1="240.71" y1="183.30" x2="240.71" y2="189.50" stroke="#0000ff" stroke-width="0.7" />
<line x1="238.91" y1="183.30" x2="242.51" y2="183.30" stroke="#0000ff" stroke-width="0.7" />
<line x1="238.91" y1="189.50" x2="242.51" y2="189.50" stroke="#0000ff" stroke-width="0.7" />
<line x1="251.04" y1="177.50" x2="251.04" y2="184.30" stroke="#0000ff" stroke-width="0.7" />
<line x1="249.24" y1="177.50" x2="252.84" y2="177.50" stroke="#0000ff" stroke-width="0.7" />
<line x1="249.24" y1="184.30" x2="252.84" y2="184.30" stroke="#0000ff" stroke-width="0.7" />
<line x1="261.37" y1="171.60" x2="261.37" y2="179.20" stroke="#0000ff" stroke-width="0.7" />
<line x1="259.57" y1="171.60" x2="263.17" y2="171.60" stroke="#0000ff" stroke-width="0.7" />
<line x1="259.57" y1="179.20" x2="263.17" y2="179.20" stroke="#0000ff" stroke-width="0.7" />
<line x1="271.70" y1="165.40" x2="271.70" y2="173.60" stroke="#0000ff" stroke-width="0.7" />
<line x1="269.90" y1="165.40" x2="273.50" y2="165.40" stroke="#0000ff" stroke-width="0.7" />
<line x1="269.90" y1="173.60" x2="273.50" y2="173.60" stroke="#0000ff" stroke-width="0.7" />
<circle cx="168.40" cy="223.60" r="1.8" fill="#0000ff" stroke="none" stroke-width="0.8"/>
<circle cx="178.73" cy="218.30" r="1.8" fill="#0000ff" stroke="none" stroke-width="0.8"/>
<circle cx="189.06" cy="213.30" r="1.8" fill="#0000ff" stroke="none" stroke-width="0.8"/>
<circle cx="199.39" cy="208.30" r="1.8" fill="#0000ff" stroke="none" stroke-width="0.8"/>
<circle cx="209.72" cy="202.80" r="1.8" fill="#0000ff" stroke="none" stroke-width="0.8"/>
<circle cx="220.05" cy="198.00" r="1.8" fill="#0000ff" stroke="none" stroke-width="0.8"/>
<circle cx="230.38" cy="191.80" r="1.8" fill="#0000ff" stroke="none" stroke-width="0.8"/>
<circle cx="240.71" cy="186.40" r="1.8" fill="#0000ff" stroke="none" stroke-width="0.8"/>
<circle cx="251.04" cy="180.90" r="1.8" fill="#0000ff" stroke="none" stroke-width="0.8"/>
<circle cx="261.37" cy="175.40" r="1.8" fill="#0000ff" stroke="none" stroke-width="0.8"/>
<circle cx="271.70" cy="169.50" r="1.8" fill="#0000ff" stroke="none" stroke-width="0.8"/>
<polyline points="168.40,223.60 178.73,219.80 189.06,216.30 199.39,212.30 209.72,208.30 220.05,203.50 230.38,199.50 240.71,195.40 251.04,191.20 261.37,187.10 271.70,183.20" fill="none" stroke="#111" stroke-width="0.9" stroke-linejoin="round"/>
<line x1="178.73" y1="219.30" x2="178.73" y2="220.30" stroke="#000" stroke-width="0.7" />
<line x1="176.93" y1="219.30" x2="180.53" y2="219.30" stroke="#000" stroke-width="0.7" />
<line x1="176.93" y1="220.30" x2="180.53" y2="220.30" stroke="#000" stroke-width="0.7" />
<line x1="189.06" y1="215.80" x2="189.06" y2="216.80" stroke="#000" stroke-width="0.7" />
<line x1="187.26" y1="215.80" x2="190.86" y2="215.80" stroke="#000" stroke-width="0.7" />
<line x1="187.26" y1="216.80" x2="190.86" y2="216.80" stroke="#000" stroke-width="0.7" />
<line x1="199.39" y1="211.80" x2="199.39" y2="212.80" stroke="#000" stroke-width="0.7" />
<line x1="197.59" y1="211.80" x2="201.19" y2="211.80" stroke="#000" stroke-width="0.7" />
<line x1="197.59" y1="212.80" x2="201.19" y2="212.80" stroke="#000" stroke-width="0.7" />
<line x1="209.72" y1="207.80" x2="209.72" y2="208.80" stroke="#000" stroke-width="0.7" />
<line x1="207.92" y1="207.80" x2="211.52" y2="207.80" stroke="#000" stroke-width="0.7" />
<line x1="207.92" y1="208.80" x2="211.52" y2="208.80" stroke="#000" stroke-width="0.7" />
<line x1="220.05" y1="202.90" x2="220.05" y2="204.10" stroke="#000" stroke-width="0.7" />
<line x1="218.25" y1="202.90" x2="221.85" y2="202.90" stroke="#000" stroke-width="0.7" />
<line x1="218.25" y1="204.10" x2="221.85" y2="204.10" stroke="#000" stroke-width="0.7" />
<line x1="230.38" y1="198.90" x2="230.38" y2="200.10" stroke="#000" stroke-width="0.7" />
<line x1="228.58" y1="198.90" x2="232.18" y2="198.90" stroke="#000" stroke-width="0.7" />
<line x1="228.58" y1="200.10" x2="232.18" y2="200.10" stroke="#000" stroke-width="0.7" />
<line x1="240.71" y1="194.60" x2="240.71" y2="196.20" stroke="#000" stroke-width="0.7" />
<line x1="238.91" y1="194.60" x2="242.51" y2="194.60" stroke="#000" stroke-width="0.7" />
<line x1="238.91" y1="196.20" x2="242.51" y2="196.20" stroke="#000" stroke-width="0.7" />
<line x1="251.04" y1="190.20" x2="251.04" y2="192.20" stroke="#000" stroke-width="0.7" />
<line x1="249.24" y1="190.20" x2="252.84" y2="190.20" stroke="#000" stroke-width="0.7" />
<line x1="249.24" y1="192.20" x2="252.84" y2="192.20" stroke="#000" stroke-width="0.7" />
<line x1="261.37" y1="185.90" x2="261.37" y2="188.30" stroke="#000" stroke-width="0.7" />
<line x1="259.57" y1="185.90" x2="263.17" y2="185.90" stroke="#000" stroke-width="0.7" />
<line x1="259.57" y1="188.30" x2="263.17" y2="188.30" stroke="#000" stroke-width="0.7" />
<line x1="271.70" y1="181.40" x2="271.70" y2="185.00" stroke="#000" stroke-width="0.7" />
<line x1="269.90" y1="181.40" x2="273.50" y2="181.40" stroke="#000" stroke-width="0.7" />
<line x1="269.90" y1="185.00" x2="273.50" y2="185.00" stroke="#000" stroke-width="0.7" />
<circle cx="168.40" cy="223.60" r="1.8" fill="#000" stroke="none" stroke-width="0.8"/>
<circle cx="178.73" cy="219.80" r="1.8" fill="#000" stroke="none" stroke-width="0.8"/>
<circle cx="189.06" cy="216.30" r="1.8" fill="#000" stroke="none" stroke-width="0.8"/>
<circle cx="199.39" cy="212.30" r="1.8" fill="#000" stroke="none" stroke-width="0.8"/>
<circle cx="209.72" cy="208.30" r="1.8" fill="#000" stroke="none" stroke-width="0.8"/>
<circle cx="220.05" cy="203.50" r="1.8" fill="#000" stroke="none" stroke-width="0.8"/>
<circle cx="230.38" cy="199.50" r="1.8" fill="#000" stroke="none" stroke-width="0.8"/>
<circle cx="240.71" cy="195.40" r="1.8" fill="#000" stroke="none" stroke-width="0.8"/>
<circle cx="251.04" cy="191.20" r="1.8" fill="#000" stroke="none" stroke-width="0.8"/>
<circle cx="261.37" cy="187.10" r="1.8" fill="#000" stroke="none" stroke-width="0.8"/>
<circle cx="271.70" cy="183.20" r="1.8" fill="#000" stroke="none" stroke-width="0.8"/>
<text font-size="5.75" font-weight="normal" fill="#222" transform="translate(256.30,163.60) scale(1,1.04)"><tspan font-style="italic">P</tspan>&lt;0.05</text>
<text x="0" y="0" font-size="15.2" font-weight="bold" transform="translate(288.80,133.45) scale(1,1.05)">G</text>
<rect x="331.50" y="140.10" width="6.00" height="2.60" fill="#fff" stroke="#000" stroke-width="0.6"/>
<text font-size="4.85" font-weight="bold" text-anchor="start" fill="#000"  transform="translate(340.80,143.05) scale(1,1.04)">Vehicle</text>
<rect x="331.50" y="147.80" width="6.00" height="2.60" fill="#00ff00" stroke="#000" stroke-width="0.6"/>
<text font-size="4.85" font-weight="bold" text-anchor="start" fill="#000"  transform="translate(340.80,150.75) scale(1,1.04)">Rosiglitazone (30 mg/kg)</text>
<line x1="331.00" y1="155.20" x2="331.00" y2="222.50" stroke="#000" stroke-width="1.0" />
<line x1="328.70" y1="155.20" x2="331.00" y2="155.20" stroke="#000" stroke-width="0.9" />
<text font-size="5.1" font-weight="bold" text-anchor="end" fill="#000"  transform="translate(327.80,157.40) scale(1,1.04)">200</text>
<line x1="328.70" y1="172.03" x2="331.00" y2="172.03" stroke="#000" stroke-width="0.9" />
<text font-size="5.1" font-weight="bold" text-anchor="end" fill="#000"  transform="translate(327.80,174.22) scale(1,1.04)">150</text>
<line x1="328.70" y1="188.85" x2="331.00" y2="188.85" stroke="#000" stroke-width="0.9" />
<text font-size="5.1" font-weight="bold" text-anchor="end" fill="#000"  transform="translate(327.80,191.05) scale(1,1.04)">100</text>
<line x1="328.70" y1="205.68" x2="331.00" y2="205.68" stroke="#000" stroke-width="0.9" />
<text font-size="5.1" font-weight="bold" text-anchor="end" fill="#000"  transform="translate(327.80,207.88) scale(1,1.04)">50</text>
<line x1="328.70" y1="222.50" x2="331.00" y2="222.50" stroke="#000" stroke-width="0.9" />
<text font-size="5.1" font-weight="bold" text-anchor="end" fill="#000"  transform="translate(327.80,224.70) scale(1,1.04)">0</text>
<text x="0" y="0" font-size="5.6" font-weight="bold" text-anchor="middle" transform="translate(302.20,187.80) rotate(-90) scale(1,1.04)">4-Hour</text>
<text x="0" y="0" font-size="5.6" font-weight="bold" text-anchor="middle" transform="translate(308.70,187.80) rotate(-90) scale(1,1.04)">Fasting Glucose</text>
<text x="0" y="0" font-size="5.6" font-weight="bold" text-anchor="middle" transform="translate(315.10,187.80) rotate(-90) scale(1,1.04)">(mg/dL)</text>
<line x1="331.00" y1="222.50" x2="376.50" y2="222.50" stroke="#000" stroke-width="1.0" />
<rect x="337.60" y="170.30" width="13.00" height="52.20" fill="#fff" stroke="#000" stroke-width="0.9"/>
<rect x="357.20" y="180.20" width="12.30" height="42.30" fill="#00ff00" stroke="#000" stroke-width="0.9"/>
<line x1="343.90" y1="168.70" x2="343.90" y2="170.30" stroke="#000" stroke-width="0.8" />
<line x1="340.90" y1="168.70" x2="346.90" y2="168.70" stroke="#000" stroke-width="0.8" />
<line x1="363.50" y1="178.60" x2="363.50" y2="180.20" stroke="#000" stroke-width="0.8" />
<line x1="360.50" y1="178.60" x2="366.50" y2="178.60" stroke="#000" stroke-width="0.8" />
<circle cx="343.90" cy="164.00" r="1.1" fill="#333" stroke="none" stroke-width="0.8"/>
<circle cx="343.90" cy="165.80" r="1.1" fill="#333" stroke="none" stroke-width="0.8"/>
<circle cx="342.60" cy="168.90" r="1.1" fill="#333" stroke="none" stroke-width="0.8"/>
<circle cx="345.20" cy="168.90" r="1.1" fill="#333" stroke="none" stroke-width="0.8"/>
<circle cx="343.90" cy="172.40" r="1.1" fill="#333" stroke="none" stroke-width="0.8"/>
<circle cx="343.90" cy="176.10" r="1.1" fill="#333" stroke="none" stroke-width="0.8"/>
<circle cx="363.80" cy="168.40" r="1.1" fill="#333" stroke="none" stroke-width="0.8"/>
<circle cx="366.80" cy="175.70" r="1.1" fill="#333" stroke="none" stroke-width="0.8"/>
<circle cx="363.10" cy="177.40" r="1.1" fill="#333" stroke="none" stroke-width="0.8"/>
<circle cx="359.80" cy="179.80" r="1.1" fill="#333" stroke="none" stroke-width="0.8"/>
<circle cx="366.80" cy="179.80" r="1.1" fill="#333" stroke="none" stroke-width="0.8"/>
<circle cx="363.50" cy="181.70" r="1.1" fill="#a05aa0" stroke="none" stroke-width="0.8"/>
<circle cx="363.50" cy="184.60" r="1.1" fill="#a05aa0" stroke="none" stroke-width="0.8"/>
<text x="0" y="0" font-size="15.0" font-weight="bold" transform="translate(414.90,133.60) scale(1,1.05)">H</text>
<rect x="445.50" y="141.30" width="6.00" height="2.60" fill="#000" stroke="#000" stroke-width="0.6"/>
<text font-size="4.85" font-weight="bold" text-anchor="start" fill="#000"  transform="translate(454.50,144.25) scale(1,1.04)">Vehicle + GIPr Ab (30 mg/kg)</text>
<rect x="445.50" y="149.80" width="6.00" height="2.60" fill="#0000ff" stroke="#000" stroke-width="0.6"/>
<text font-size="4.85" font-weight="bold" text-anchor="start" fill="#000"  transform="translate(454.50,152.75) scale(1,1.04)">Rosiglitazone + GIPR Ab</text>
<line x1="444.80" y1="154.86" x2="444.80" y2="223.50" stroke="#000" stroke-width="1.0" />
<line x1="442.50" y1="154.86" x2="444.80" y2="154.86" stroke="#000" stroke-width="0.9" />
<text font-size="5.1" font-weight="bold" text-anchor="end" fill="#000"  transform="translate(441.60,157.06) scale(1,1.04)">200</text>
<line x1="442.50" y1="172.02" x2="444.80" y2="172.02" stroke="#000" stroke-width="0.9" />
<text font-size="5.1" font-weight="bold" text-anchor="end" fill="#000"  transform="translate(441.60,174.22) scale(1,1.04)">150</text>
<line x1="442.50" y1="189.18" x2="444.80" y2="189.18" stroke="#000" stroke-width="0.9" />
<text font-size="5.1" font-weight="bold" text-anchor="end" fill="#000"  transform="translate(441.60,191.38) scale(1,1.04)">100</text>
<line x1="442.50" y1="206.34" x2="444.80" y2="206.34" stroke="#000" stroke-width="0.9" />
<text font-size="5.1" font-weight="bold" text-anchor="end" fill="#000"  transform="translate(441.60,208.54) scale(1,1.04)">50</text>
<line x1="442.50" y1="223.50" x2="444.80" y2="223.50" stroke="#000" stroke-width="0.9" />
<text font-size="5.1" font-weight="bold" text-anchor="end" fill="#000"  transform="translate(441.60,225.70) scale(1,1.04)">0</text>
<text x="0" y="0" font-size="5.6" font-weight="bold" text-anchor="middle" transform="translate(415.80,188.30) rotate(-90) scale(1,1.04)">4-Hour</text>
<text x="0" y="0" font-size="5.6" font-weight="bold" text-anchor="middle" transform="translate(422.10,188.30) rotate(-90) scale(1,1.04)">Fasting Glucose</text>
<text x="0" y="0" font-size="5.6" font-weight="bold" text-anchor="middle" transform="translate(428.40,188.30) rotate(-90) scale(1,1.04)">(mg/dL)</text>
<line x1="444.80" y1="223.50" x2="490.00" y2="223.50" stroke="#000" stroke-width="1.0" />
<rect x="451.40" y="171.60" width="12.60" height="51.90" fill="#000" stroke="#000" stroke-width="0.9"/>
<rect x="471.10" y="180.20" width="12.50" height="43.30" fill="#0000ff" stroke="#000" stroke-width="0.9"/>
<circle cx="454.20" cy="169.75" r="1.1" fill="#444" stroke="none" stroke-width="0.8"/>
<circle cx="457.80" cy="169.75" r="1.1" fill="#444" stroke="none" stroke-width="0.8"/>
<circle cx="461.10" cy="169.75" r="1.1" fill="#444" stroke="none" stroke-width="0.8"/>
<circle cx="455.90" cy="174.50" r="1.0" fill="#bbb" stroke="none" stroke-width="0.8"/>
<circle cx="459.20" cy="174.00" r="1.0" fill="#bbb" stroke="none" stroke-width="0.8"/>
<circle cx="477.30" cy="169.10" r="1.1" fill="#333" stroke="none" stroke-width="0.8"/>
<circle cx="476.90" cy="177.00" r="1.1" fill="#333" stroke="none" stroke-width="0.8"/>
<circle cx="473.60" cy="179.40" r="1.1" fill="#333" stroke="none" stroke-width="0.8"/>
<circle cx="480.60" cy="179.00" r="1.1" fill="#333" stroke="none" stroke-width="0.8"/>
<circle cx="474.00" cy="182.70" r="1.0" fill="#8a8a40" stroke="none" stroke-width="0.8"/>
<circle cx="477.30" cy="181.00" r="1.0" fill="#8a8a40" stroke="none" stroke-width="0.8"/>
<circle cx="480.60" cy="181.50" r="1.0" fill="#8a8a40" stroke="none" stroke-width="0.8"/>
<text x="0" y="0" font-size="15.2" font-weight="bold" transform="translate(2.20,259.60) scale(1,1.05)">I</text>
<line x1="18.00" y1="269.10" x2="23.60" y2="269.10" stroke="#777" stroke-width="0.8" />
<circle cx="20.80" cy="269.10" r="1.45" fill="#fff" stroke="#777" stroke-width="0.85"/>
<text font-size="5.7" font-weight="bold" text-anchor="start" fill="#000"  transform="translate(27.30,270.85) scale(1,1.04)">Vehicle</text>
<line x1="18.00" y1="276.90" x2="23.60" y2="276.90" stroke="#00c800" stroke-width="0.8" />
<circle cx="20.80" cy="276.90" r="1.7999999999999998" fill="#00c800" stroke="none" stroke-width="0.8"/>
<text font-size="5.7" font-weight="bold" text-anchor="start" fill="#000"  transform="translate(27.30,278.65) scale(1,1.04)">Rosiglitazone (30 mg/kg)</text>
<line x1="20.30" y1="282.30" x2="20.30" y2="343.60" stroke="#000" stroke-width="1.0" />
<line x1="18.00" y1="282.30" x2="20.30" y2="282.30" stroke="#000" stroke-width="0.9" />
<text font-size="5.1" font-weight="bold" text-anchor="end" fill="#000"  transform="translate(17.10,284.50) scale(1,1.04)">200</text>
<line x1="18.00" y1="297.62" x2="20.30" y2="297.62" stroke="#000" stroke-width="0.9" />
<text font-size="5.1" font-weight="bold" text-anchor="end" fill="#000"  transform="translate(17.10,299.82) scale(1,1.04)">150</text>
<line x1="18.00" y1="312.95" x2="20.30" y2="312.95" stroke="#000" stroke-width="0.9" />
<text font-size="5.1" font-weight="bold" text-anchor="end" fill="#000"  transform="translate(17.10,315.15) scale(1,1.04)">100</text>
<line x1="18.00" y1="328.28" x2="20.30" y2="328.28" stroke="#000" stroke-width="0.9" />
<text font-size="5.1" font-weight="bold" text-anchor="end" fill="#000"  transform="translate(17.10,330.48) scale(1,1.04)">50</text>
<line x1="18.00" y1="343.60" x2="20.30" y2="343.60" stroke="#000" stroke-width="0.9" />
<text font-size="5.1" font-weight="bold" text-anchor="end" fill="#000"  transform="translate(17.10,345.80) scale(1,1.04)">0</text>
<text x="0" y="0" font-size="5.6" font-weight="bold" text-anchor="middle" transform="translate(4.50,311.40) rotate(-90) scale(1,1.04)">Glucose (mg/dL)</text>
<line x1="20.30" y1="343.60" x2="111.90" y2="343.60" stroke="#000" stroke-width="1.0" />
<line x1="20.30" y1="343.60" x2="20.30" y2="345.80" stroke="#000" stroke-width="0.9" />
<text font-size="5.1" font-weight="bold" text-anchor="middle" fill="#000"  transform="translate(20.30,352.20) scale(1,1.04)">0</text>
<line x1="31.75" y1="343.60" x2="31.75" y2="345.80" stroke="#000" stroke-width="0.9" />
<text font-size="5.1" font-weight="bold" text-anchor="middle" fill="#000"  transform="translate(31.75,352.20) scale(1,1.04)">15</text>
<line x1="43.20" y1="343.60" x2="43.20" y2="345.80" stroke="#000" stroke-width="0.9" />
<text font-size="5.1" font-weight="bold" text-anchor="middle" fill="#000"  transform="translate(43.20,352.20) scale(1,1.04)">30</text>
<line x1="66.10" y1="343.60" x2="66.10" y2="345.80" stroke="#000" stroke-width="0.9" />
<text font-size="5.1" font-weight="bold" text-anchor="middle" fill="#000"  transform="translate(66.10,352.20) scale(1,1.04)">60</text>
<line x1="111.90" y1="343.60" x2="111.90" y2="345.80" stroke="#000" stroke-width="0.9" />
<text font-size="5.1" font-weight="bold" text-anchor="middle" fill="#000"  transform="translate(111.90,352.20) scale(1,1.04)">120</text>
<text font-size="5.6" font-weight="bold" text-anchor="middle" fill="#000"  transform="translate(66.30,361.00) scale(1,1.04)">Time (Min)</text>
<polyline points="20.30,305.20 31.75,311.25 43.20,320.90 66.10,325.00 111.90,314.30" fill="none" stroke="#2fd02f" stroke-width="0.9" stroke-linejoin="round"/>
<circle cx="20.30" cy="305.20" r="1.5" fill="#00c800" stroke="none" stroke-width="0.8"/>
<circle cx="31.75" cy="311.25" r="1.5" fill="#00c800" stroke="none" stroke-width="0.8"/>
<circle cx="43.20" cy="320.90" r="1.5" fill="#00c800" stroke="none" stroke-width="0.8"/>
<circle cx="66.10" cy="325.00" r="1.5" fill="#00c800" stroke="none" stroke-width="0.8"/>
<circle cx="111.90" cy="314.30" r="1.5" fill="#00c800" stroke="none" stroke-width="0.8"/>
<polyline points="20.30,296.10 31.75,299.10 43.20,308.80 66.10,301.20 111.90,298.10" fill="none" stroke="#888" stroke-width="0.8" stroke-linejoin="round"/>
<line x1="20.30" y1="294.60" x2="20.30" y2="297.60" stroke="#555" stroke-width="0.7" />
<line x1="18.80" y1="294.60" x2="21.80" y2="294.60" stroke="#555" stroke-width="0.7" />
<line x1="18.80" y1="297.60" x2="21.80" y2="297.60" stroke="#555" stroke-width="0.7" />
<line x1="31.75" y1="297.60" x2="31.75" y2="300.60" stroke="#555" stroke-width="0.7" />
<line x1="30.25" y1="297.60" x2="33.25" y2="297.60" stroke="#555" stroke-width="0.7" />
<line x1="30.25" y1="300.60" x2="33.25" y2="300.60" stroke="#555" stroke-width="0.7" />
<line x1="43.20" y1="305.80" x2="43.20" y2="311.80" stroke="#555" stroke-width="0.7" />
<line x1="41.70" y1="305.80" x2="44.70" y2="305.80" stroke="#555" stroke-width="0.7" />
<line x1="41.70" y1="311.80" x2="44.70" y2="311.80" stroke="#555" stroke-width="0.7" />
<line x1="66.10" y1="296.60" x2="66.10" y2="305.80" stroke="#555" stroke-width="0.7" />
<line x1="64.60" y1="296.60" x2="67.60" y2="296.60" stroke="#555" stroke-width="0.7" />
<line x1="64.60" y1="305.80" x2="67.60" y2="305.80" stroke="#555" stroke-width="0.7" />
<line x1="111.90" y1="294.80" x2="111.90" y2="301.40" stroke="#555" stroke-width="0.7" />
<line x1="110.40" y1="294.80" x2="113.40" y2="294.80" stroke="#555" stroke-width="0.7" />
<line x1="110.40" y1="301.40" x2="113.40" y2="301.40" stroke="#555" stroke-width="0.7" />
<circle cx="20.30" cy="296.10" r="1.3" fill="#fff" stroke="#555" stroke-width="0.75"/>
<circle cx="31.75" cy="299.10" r="1.3" fill="#fff" stroke="#555" stroke-width="0.75"/>
<circle cx="43.20" cy="308.80" r="1.3" fill="#fff" stroke="#555" stroke-width="0.75"/>
<circle cx="66.10" cy="301.20" r="1.3" fill="#fff" stroke="#555" stroke-width="0.75"/>
<circle cx="111.90" cy="298.10" r="1.3" fill="#fff" stroke="#555" stroke-width="0.75"/>
<text font-size="5.9" font-weight="bold" fill="#222" transform="translate(96.80,323.50) scale(1,1.04)"><tspan font-style="italic">P</tspan>&lt;0.05</text>
<line x1="149.70" y1="263.00" x2="155.30" y2="263.00" stroke="#333" stroke-width="0.8" />
<circle cx="152.50" cy="263.00" r="1.45" fill="#fff" stroke="#333" stroke-width="0.85"/>
<text font-size="5.7" font-weight="bold" text-anchor="start" fill="#000"  transform="translate(159.30,264.75) scale(1,1.04)">Vehicle</text>
<line x1="149.70" y1="271.50" x2="155.30" y2="271.50" stroke="#00c800" stroke-width="0.8" />
<circle cx="152.50" cy="271.50" r="1.7999999999999998" fill="#00c800" stroke="none" stroke-width="0.8"/>
<text font-size="5.7" font-weight="bold" text-anchor="start" fill="#000"  transform="translate(159.30,273.25) scale(1,1.04)">Rosiglitaone (30 mg/kg)</text>
<line x1="152.30" y1="274.95" x2="152.30" y2="343.55" stroke="#000" stroke-width="1.0" />
<line x1="150.00" y1="274.95" x2="152.30" y2="274.95" stroke="#000" stroke-width="0.9" />
<text font-size="5.1" font-weight="bold" text-anchor="end" fill="#000"  transform="translate(149.10,277.15) scale(1,1.04)">20</text>
<line x1="150.00" y1="292.10" x2="152.30" y2="292.10" stroke="#000" stroke-width="0.9" />
<text font-size="5.1" font-weight="bold" text-anchor="end" fill="#000"  transform="translate(149.10,294.30) scale(1,1.04)">0</text>
<line x1="150.00" y1="309.25" x2="152.30" y2="309.25" stroke="#000" stroke-width="0.9" />
<text font-size="5.1" font-weight="bold" text-anchor="end" fill="#000"  transform="translate(149.10,311.45) scale(1,1.04)">-20</text>
<line x1="150.00" y1="326.40" x2="152.30" y2="326.40" stroke="#000" stroke-width="0.9" />
<text font-size="5.1" font-weight="bold" text-anchor="end" fill="#000"  transform="translate(149.10,328.60) scale(1,1.04)">-40</text>
<line x1="150.00" y1="343.55" x2="152.30" y2="343.55" stroke="#000" stroke-width="0.9" />
<text font-size="5.1" font-weight="bold" text-anchor="end" fill="#000"  transform="translate(149.10,345.75) scale(1,1.04)">-60</text>
<text x="0" y="0" font-size="5.6" font-weight="bold" text-anchor="middle" transform="translate(137.50,308.55) rotate(-90) scale(1,1.04)">Change in Glucose (%)</text>
<line x1="152.30" y1="343.55" x2="243.90" y2="343.55" stroke="#000" stroke-width="1.0" />
<line x1="152.30" y1="343.55" x2="152.30" y2="345.75" stroke="#000" stroke-width="0.9" />
<text font-size="5.1" font-weight="bold" text-anchor="middle" fill="#000"  transform="translate(152.30,352.15) scale(1,1.04)">0</text>
<line x1="163.75" y1="343.55" x2="163.75" y2="345.75" stroke="#000" stroke-width="0.9" />
<text font-size="5.1" font-weight="bold" text-anchor="middle" fill="#000"  transform="translate(163.75,352.15) scale(1,1.04)">15</text>
<line x1="175.20" y1="343.55" x2="175.20" y2="345.75" stroke="#000" stroke-width="0.9" />
<text font-size="5.1" font-weight="bold" text-anchor="middle" fill="#000"  transform="translate(175.20,352.15) scale(1,1.04)">30</text>
<line x1="198.10" y1="343.55" x2="198.10" y2="345.75" stroke="#000" stroke-width="0.9" />
<text font-size="5.1" font-weight="bold" text-anchor="middle" fill="#000"  transform="translate(198.10,352.15) scale(1,1.04)">60</text>
<line x1="243.90" y1="343.55" x2="243.90" y2="345.75" stroke="#000" stroke-width="0.9" />
<text font-size="5.1" font-weight="bold" text-anchor="middle" fill="#000"  transform="translate(243.90,352.15) scale(1,1.04)">120</text>
<text font-size="5.6" font-weight="bold" text-anchor="middle" fill="#000"  transform="translate(197.50,361.00) scale(1,1.04)">Time (Min)</text>
<line x1="152.30" y1="292.10" x2="243.90" y2="292.10" stroke="#999" stroke-width="0.6" stroke-dasharray="1.5,1"/>
<polyline points="152.30,292.10 163.75,305.20 175.20,326.85 198.10,336.10 243.90,311.90" fill="none" stroke="#2fd02f" stroke-width="0.9" stroke-linejoin="round"/>
<line x1="163.75" y1="301.20" x2="163.75" y2="309.20" stroke="#00c800" stroke-width="0.7" />
<line x1="162.25" y1="301.20" x2="165.25" y2="301.20" stroke="#00c800" stroke-width="0.7" />
<line x1="162.25" y1="309.20" x2="165.25" y2="309.20" stroke="#00c800" stroke-width="0.7" />
<line x1="175.20" y1="326.05" x2="175.20" y2="327.65" stroke="#00c800" stroke-width="0.7" />
<line x1="173.70" y1="326.05" x2="176.70" y2="326.05" stroke="#00c800" stroke-width="0.7" />
<line x1="173.70" y1="327.65" x2="176.70" y2="327.65" stroke="#00c800" stroke-width="0.7" />
<line x1="198.10" y1="332.80" x2="198.10" y2="339.40" stroke="#00c800" stroke-width="0.7" />
<line x1="196.60" y1="332.80" x2="199.60" y2="332.80" stroke="#00c800" stroke-width="0.7" />
<line x1="196.60" y1="339.40" x2="199.60" y2="339.40" stroke="#00c800" stroke-width="0.7" />
<line x1="243.90" y1="308.70" x2="243.90" y2="315.10" stroke="#00c800" stroke-width="0.7" />
<line x1="242.40" y1="308.70" x2="245.40" y2="308.70" stroke="#00c800" stroke-width="0.7" />
<line x1="242.40" y1="315.10" x2="245.40" y2="315.10" stroke="#00c800" stroke-width="0.7" />
<circle cx="152.30" cy="292.10" r="1.5" fill="#00c800" stroke="none" stroke-width="0.8"/>
<circle cx="163.75" cy="305.20" r="1.5" fill="#00c800" stroke="none" stroke-width="0.8"/>
<circle cx="175.20" cy="326.85" r="1.5" fill="#00c800" stroke="none" stroke-width="0.8"/>
<circle cx="198.10" cy="336.10" r="1.5" fill="#00c800" stroke="none" stroke-width="0.8"/>
<circle cx="243.90" cy="311.90" r="1.5" fill="#00c800" stroke="none" stroke-width="0.8"/>
<polyline points="152.30,292.10 163.75,297.80 175.20,314.30 198.10,301.20 243.90,295.10" fill="none" stroke="#333" stroke-width="0.8" stroke-linejoin="round"/>
<line x1="163.75" y1="295.00" x2="163.75" y2="300.60" stroke="#333" stroke-width="0.7" />
<line x1="162.25" y1="295.00" x2="165.25" y2="295.00" stroke="#333" stroke-width="0.7" />
<line x1="162.25" y1="300.60" x2="165.25" y2="300.60" stroke="#333" stroke-width="0.7" />
<line x1="175.20" y1="310.10" x2="175.20" y2="318.50" stroke="#333" stroke-width="0.7" />
<line x1="173.70" y1="310.10" x2="176.70" y2="310.10" stroke="#333" stroke-width="0.7" />
<line x1="173.70" y1="318.50" x2="176.70" y2="318.50" stroke="#333" stroke-width="0.7" />
<line x1="198.10" y1="293.70" x2="198.10" y2="308.70" stroke="#333" stroke-width="0.7" />
<line x1="196.60" y1="293.70" x2="199.60" y2="293.70" stroke="#333" stroke-width="0.7" />
<line x1="196.60" y1="308.70" x2="199.60" y2="308.70" stroke="#333" stroke-width="0.7" />
<line x1="243.90" y1="292.30" x2="243.90" y2="297.90" stroke="#333" stroke-width="0.7" />
<line x1="242.40" y1="292.30" x2="245.40" y2="292.30" stroke="#333" stroke-width="0.7" />
<line x1="242.40" y1="297.90" x2="245.40" y2="297.90" stroke="#333" stroke-width="0.7" />
<circle cx="152.30" cy="292.10" r="1.3" fill="#fff" stroke="#333" stroke-width="0.75"/>
<circle cx="163.75" cy="297.80" r="1.3" fill="#fff" stroke="#333" stroke-width="0.75"/>
<circle cx="175.20" cy="314.30" r="1.3" fill="#fff" stroke="#333" stroke-width="0.75"/>
<circle cx="198.10" cy="301.20" r="1.3" fill="#fff" stroke="#333" stroke-width="0.75"/>
<circle cx="243.90" cy="295.10" r="1.3" fill="#fff" stroke="#333" stroke-width="0.75"/>
<text font-size="5.9" font-weight="bold" fill="#222" transform="translate(229.20,324.50) scale(1,1.04)"><tspan font-style="italic">P</tspan>&lt;0.05</text>
<text x="0" y="0" font-size="15.0" font-weight="bold" transform="translate(268.30,259.50) scale(1,1.05)">J</text>
<line x1="282.20" y1="261.50" x2="287.80" y2="261.50" stroke="#000" stroke-width="0.8" />
<circle cx="285.00" cy="261.50" r="1.7999999999999998" fill="#000" stroke="none" stroke-width="0.8"/>
<text font-size="5.7" font-weight="bold" text-anchor="start" fill="#000"  transform="translate(292.50,263.25) scale(1,1.04)">GIPR-Ab (30 mg/kg)</text>
<line x1="282.20" y1="270.25" x2="287.80" y2="270.25" stroke="#0000ff" stroke-width="0.8" />
<circle cx="285.00" cy="270.25" r="1.7999999999999998" fill="#0000ff" stroke="none" stroke-width="0.8"/>
<text font-size="5.7" font-weight="bold" text-anchor="start" fill="#000"  transform="translate(292.50,272.00) scale(1,1.04)">Rosiglitaone + GIPR-Ab</text>
<line x1="285.45" y1="275.00" x2="285.45" y2="343.50" stroke="#000" stroke-width="1.0" />
<line x1="283.15" y1="275.00" x2="285.45" y2="275.00" stroke="#000" stroke-width="0.9" />
<text font-size="5.1" font-weight="bold" text-anchor="end" fill="#000"  transform="translate(282.25,277.20) scale(1,1.04)">200</text>
<line x1="283.15" y1="292.12" x2="285.45" y2="292.12" stroke="#000" stroke-width="0.9" />
<text font-size="5.1" font-weight="bold" text-anchor="end" fill="#000"  transform="translate(282.25,294.32) scale(1,1.04)">150</text>
<line x1="283.15" y1="309.25" x2="285.45" y2="309.25" stroke="#000" stroke-width="0.9" />
<text font-size="5.1" font-weight="bold" text-anchor="end" fill="#000"  transform="translate(282.25,311.45) scale(1,1.04)">100</text>
<line x1="283.15" y1="326.38" x2="285.45" y2="326.38" stroke="#000" stroke-width="0.9" />
<text font-size="5.1" font-weight="bold" text-anchor="end" fill="#000"  transform="translate(282.25,328.57) scale(1,1.04)">50</text>
<line x1="283.15" y1="343.50" x2="285.45" y2="343.50" stroke="#000" stroke-width="0.9" />
<text font-size="5.1" font-weight="bold" text-anchor="end" fill="#000"  transform="translate(282.25,345.70) scale(1,1.04)">0</text>
<text x="0" y="0" font-size="5.6" font-weight="bold" text-anchor="middle" transform="translate(270.20,307.50) rotate(-90) scale(1,1.04)">Glucose (mg/dL)</text>
<line x1="285.45" y1="343.50" x2="377.30" y2="343.50" stroke="#000" stroke-width="1.0" />
<line x1="285.45" y1="343.50" x2="285.45" y2="345.70" stroke="#000" stroke-width="0.9" />
<text font-size="5.1" font-weight="bold" text-anchor="middle" fill="#000"  transform="translate(285.45,352.10) scale(1,1.04)">0</text>
<line x1="296.93" y1="343.50" x2="296.93" y2="345.70" stroke="#000" stroke-width="0.9" />
<text font-size="5.1" font-weight="bold" text-anchor="middle" fill="#000"  transform="translate(296.93,352.10) scale(1,1.04)">15</text>
<line x1="308.41" y1="343.50" x2="308.41" y2="345.70" stroke="#000" stroke-width="0.9" />
<text font-size="5.1" font-weight="bold" text-anchor="middle" fill="#000"  transform="translate(308.41,352.10) scale(1,1.04)">30</text>
<line x1="331.38" y1="343.50" x2="331.38" y2="345.70" stroke="#000" stroke-width="0.9" />
<text font-size="5.1" font-weight="bold" text-anchor="middle" fill="#000"  transform="translate(331.38,352.10) scale(1,1.04)">60</text>
<line x1="377.30" y1="343.50" x2="377.30" y2="345.70" stroke="#000" stroke-width="0.9" />
<text font-size="5.1" font-weight="bold" text-anchor="middle" fill="#000"  transform="translate(377.30,352.10) scale(1,1.04)">120</text>
<text font-size="5.6" font-weight="bold" text-anchor="middle" fill="#000"  transform="translate(332.00,361.00) scale(1,1.04)">Time (Min)</text>
<polyline points="285.45,300.20 296.93,307.70 308.41,318.00 331.38,322.80 377.30,311.30" fill="none" stroke="#0000ff" stroke-width="0.9" stroke-linejoin="round"/>
<line x1="377.30" y1="308.80" x2="377.30" y2="313.80" stroke="#0000ff" stroke-width="0.7" />
<line x1="375.80" y1="308.80" x2="378.80" y2="308.80" stroke="#0000ff" stroke-width="0.7" />
<line x1="375.80" y1="313.80" x2="378.80" y2="313.80" stroke="#0000ff" stroke-width="0.7" />
<circle cx="285.45" cy="300.20" r="1.6" fill="#0000ff" stroke="none" stroke-width="0.8"/>
<circle cx="296.93" cy="307.70" r="1.6" fill="#0000ff" stroke="none" stroke-width="0.8"/>
<circle cx="308.41" cy="318.00" r="1.6" fill="#0000ff" stroke="none" stroke-width="0.8"/>
<circle cx="331.38" cy="322.80" r="1.6" fill="#0000ff" stroke="none" stroke-width="0.8"/>
<circle cx="377.30" cy="311.30" r="1.6" fill="#0000ff" stroke="none" stroke-width="0.8"/>
<polyline points="285.45,291.70 296.93,289.10 308.41,303.20 331.38,297.80 377.30,293.70" fill="none" stroke="#111" stroke-width="0.8" stroke-linejoin="round"/>
<line x1="296.93" y1="285.10" x2="296.93" y2="293.10" stroke="#000" stroke-width="0.7" />
<line x1="295.43" y1="285.10" x2="298.43" y2="285.10" stroke="#000" stroke-width="0.7" />
<line x1="295.43" y1="293.10" x2="298.43" y2="293.10" stroke="#000" stroke-width="0.7" />
<line x1="308.41" y1="301.20" x2="308.41" y2="305.20" stroke="#000" stroke-width="0.7" />
<line x1="306.91" y1="301.20" x2="309.91" y2="301.20" stroke="#000" stroke-width="0.7" />
<line x1="306.91" y1="305.20" x2="309.91" y2="305.20" stroke="#000" stroke-width="0.7" />
<line x1="331.38" y1="295.30" x2="331.38" y2="300.30" stroke="#000" stroke-width="0.7" />
<line x1="329.88" y1="295.30" x2="332.88" y2="295.30" stroke="#000" stroke-width="0.7" />
<line x1="329.88" y1="300.30" x2="332.88" y2="300.30" stroke="#000" stroke-width="0.7" />
<line x1="377.30" y1="290.20" x2="377.30" y2="297.20" stroke="#000" stroke-width="0.7" />
<line x1="375.80" y1="290.20" x2="378.80" y2="290.20" stroke="#000" stroke-width="0.7" />
<line x1="375.80" y1="297.20" x2="378.80" y2="297.20" stroke="#000" stroke-width="0.7" />
<circle cx="285.45" cy="291.70" r="1.6" fill="#000" stroke="none" stroke-width="0.8"/>
<circle cx="296.93" cy="289.10" r="1.6" fill="#000" stroke="none" stroke-width="0.8"/>
<circle cx="308.41" cy="303.20" r="1.6" fill="#000" stroke="none" stroke-width="0.8"/>
<circle cx="331.38" cy="297.80" r="1.6" fill="#000" stroke="none" stroke-width="0.8"/>
<circle cx="377.30" cy="293.70" r="1.6" fill="#000" stroke="none" stroke-width="0.8"/>
<text font-size="5.9" font-weight="bold" fill="#222" transform="translate(361.80,322.10) scale(1,1.04)"><tspan font-style="italic">P</tspan>&lt;0.05</text>
<line x1="416.20" y1="261.50" x2="421.80" y2="261.50" stroke="#000" stroke-width="0.8" />
<circle cx="419.00" cy="261.50" r="1.7999999999999998" fill="#000" stroke="none" stroke-width="0.8"/>
<text font-size="5.7" font-weight="bold" text-anchor="start" fill="#000"  transform="translate(424.50,263.25) scale(1,1.04)">GIPR-Ab (30 mg/kg)</text>
<line x1="416.20" y1="270.25" x2="421.80" y2="270.25" stroke="#0000ff" stroke-width="0.8" />
<circle cx="419.00" cy="270.25" r="1.7999999999999998" fill="#0000ff" stroke="none" stroke-width="0.8"/>
<text font-size="5.7" font-weight="bold" text-anchor="start" fill="#000"  transform="translate(424.50,272.00) scale(1,1.04)">Rosiglitazone + GIPR-Ab</text>
<line x1="417.45" y1="274.95" x2="417.45" y2="343.55" stroke="#000" stroke-width="1.0" />
<line x1="415.15" y1="274.95" x2="417.45" y2="274.95" stroke="#000" stroke-width="0.9" />
<text font-size="5.1" font-weight="bold" text-anchor="end" fill="#000"  transform="translate(414.25,277.15) scale(1,1.04)">20</text>
<line x1="415.15" y1="292.10" x2="417.45" y2="292.10" stroke="#000" stroke-width="0.9" />
<text font-size="5.1" font-weight="bold" text-anchor="end" fill="#000"  transform="translate(414.25,294.30) scale(1,1.04)">0</text>
<line x1="415.15" y1="309.25" x2="417.45" y2="309.25" stroke="#000" stroke-width="0.9" />
<text font-size="5.1" font-weight="bold" text-anchor="end" fill="#000"  transform="translate(414.25,311.45) scale(1,1.04)">-20</text>
<line x1="415.15" y1="326.40" x2="417.45" y2="326.40" stroke="#000" stroke-width="0.9" />
<text font-size="5.1" font-weight="bold" text-anchor="end" fill="#000"  transform="translate(414.25,328.60) scale(1,1.04)">-40</text>
<line x1="415.15" y1="343.55" x2="417.45" y2="343.55" stroke="#000" stroke-width="0.9" />
<text font-size="5.1" font-weight="bold" text-anchor="end" fill="#000"  transform="translate(414.25,345.75) scale(1,1.04)">-60</text>
<text x="0" y="0" font-size="5.6" font-weight="bold" text-anchor="middle" transform="translate(403.50,308.25) rotate(-90) scale(1,1.04)">Change in Glucose (%)</text>
<line x1="417.45" y1="343.55" x2="509.30" y2="343.55" stroke="#000" stroke-width="1.0" />
<line x1="417.45" y1="343.55" x2="417.45" y2="345.75" stroke="#000" stroke-width="0.9" />
<text font-size="5.1" font-weight="bold" text-anchor="middle" fill="#000"  transform="translate(417.45,352.15) scale(1,1.04)">0</text>
<line x1="428.93" y1="343.55" x2="428.93" y2="345.75" stroke="#000" stroke-width="0.9" />
<text font-size="5.1" font-weight="bold" text-anchor="middle" fill="#000"  transform="translate(428.93,352.15) scale(1,1.04)">15</text>
<line x1="440.41" y1="343.55" x2="440.41" y2="345.75" stroke="#000" stroke-width="0.9" />
<text font-size="5.1" font-weight="bold" text-anchor="middle" fill="#000"  transform="translate(440.41,352.15) scale(1,1.04)">30</text>
<line x1="463.38" y1="343.55" x2="463.38" y2="345.75" stroke="#000" stroke-width="0.9" />
<text font-size="5.1" font-weight="bold" text-anchor="middle" fill="#000"  transform="translate(463.38,352.15) scale(1,1.04)">60</text>
<line x1="509.30" y1="343.55" x2="509.30" y2="345.75" stroke="#000" stroke-width="0.9" />
<text font-size="5.1" font-weight="bold" text-anchor="middle" fill="#000"  transform="translate(509.30,352.15) scale(1,1.04)">120</text>
<text font-size="5.6" font-weight="bold" text-anchor="middle" fill="#000"  transform="translate(463.00,361.00) scale(1,1.04)">Time (Min)</text>
<line x1="417.45" y1="292.10" x2="509.30" y2="292.10" stroke="#999" stroke-width="0.6" stroke-dasharray="1.5,1"/>
<polyline points="417.45,292.10 428.93,306.65 440.41,327.50 463.38,336.50 509.30,313.30" fill="none" stroke="#0000ff" stroke-width="0.9" stroke-linejoin="round"/>
<line x1="428.93" y1="303.35" x2="428.93" y2="309.95" stroke="#0000ff" stroke-width="0.7" />
<line x1="427.43" y1="303.35" x2="430.43" y2="303.35" stroke="#0000ff" stroke-width="0.7" />
<line x1="427.43" y1="309.95" x2="430.43" y2="309.95" stroke="#0000ff" stroke-width="0.7" />
<line x1="463.38" y1="335.70" x2="463.38" y2="337.30" stroke="#0000ff" stroke-width="0.7" />
<line x1="461.88" y1="335.70" x2="464.88" y2="335.70" stroke="#0000ff" stroke-width="0.7" />
<line x1="461.88" y1="337.30" x2="464.88" y2="337.30" stroke="#0000ff" stroke-width="0.7" />
<line x1="509.30" y1="308.05" x2="509.30" y2="318.55" stroke="#0000ff" stroke-width="0.7" />
<line x1="507.80" y1="308.05" x2="510.80" y2="308.05" stroke="#0000ff" stroke-width="0.7" />
<line x1="507.80" y1="318.55" x2="510.80" y2="318.55" stroke="#0000ff" stroke-width="0.7" />
<circle cx="417.45" cy="292.10" r="1.6" fill="#0000ff" stroke="none" stroke-width="0.8"/>
<circle cx="428.93" cy="306.65" r="1.6" fill="#0000ff" stroke="none" stroke-width="0.8"/>
<circle cx="440.41" cy="327.50" r="1.6" fill="#0000ff" stroke="none" stroke-width="0.8"/>
<circle cx="463.38" cy="336.50" r="1.6" fill="#0000ff" stroke="none" stroke-width="0.8"/>
<circle cx="509.30" cy="313.30" r="1.6" fill="#0000ff" stroke="none" stroke-width="0.8"/>
<polyline points="417.45,292.10 428.93,288.50 440.41,311.30 463.38,302.20 509.30,295.75" fill="none" stroke="#111" stroke-width="0.8" stroke-linejoin="round"/>
<line x1="428.93" y1="282.20" x2="428.93" y2="294.80" stroke="#000" stroke-width="0.7" />
<line x1="427.43" y1="282.20" x2="430.43" y2="282.20" stroke="#000" stroke-width="0.7" />
<line x1="427.43" y1="294.80" x2="430.43" y2="294.80" stroke="#000" stroke-width="0.7" />
<line x1="440.41" y1="307.10" x2="440.41" y2="315.50" stroke="#000" stroke-width="0.7" />
<line x1="438.91" y1="307.10" x2="441.91" y2="307.10" stroke="#000" stroke-width="0.7" />
<line x1="438.91" y1="315.50" x2="441.91" y2="315.50" stroke="#000" stroke-width="0.7" />
<line x1="463.38" y1="297.50" x2="463.38" y2="306.90" stroke="#000" stroke-width="0.7" />
<line x1="461.88" y1="297.50" x2="464.88" y2="297.50" stroke="#000" stroke-width="0.7" />
<line x1="461.88" y1="306.90" x2="464.88" y2="306.90" stroke="#000" stroke-width="0.7" />
<line x1="509.30" y1="290.55" x2="509.30" y2="300.95" stroke="#000" stroke-width="0.7" />
<line x1="507.80" y1="290.55" x2="510.80" y2="290.55" stroke="#000" stroke-width="0.7" />
<line x1="507.80" y1="300.95" x2="510.80" y2="300.95" stroke="#000" stroke-width="0.7" />
<circle cx="417.45" cy="292.10" r="1.6" fill="#000" stroke="none" stroke-width="0.8"/>
<circle cx="428.93" cy="288.50" r="1.6" fill="#000" stroke="none" stroke-width="0.8"/>
<circle cx="440.41" cy="311.30" r="1.6" fill="#000" stroke="none" stroke-width="0.8"/>
<circle cx="463.38" cy="302.20" r="1.6" fill="#000" stroke="none" stroke-width="0.8"/>
<circle cx="509.30" cy="295.75" r="1.6" fill="#000" stroke="none" stroke-width="0.8"/>
<text font-size="5.9" font-weight="bold" fill="#222" transform="translate(493.80,325.50) scale(1,1.04)"><tspan font-style="italic">P</tspan>&lt;0.05</text>
</svg>
</body></html>
